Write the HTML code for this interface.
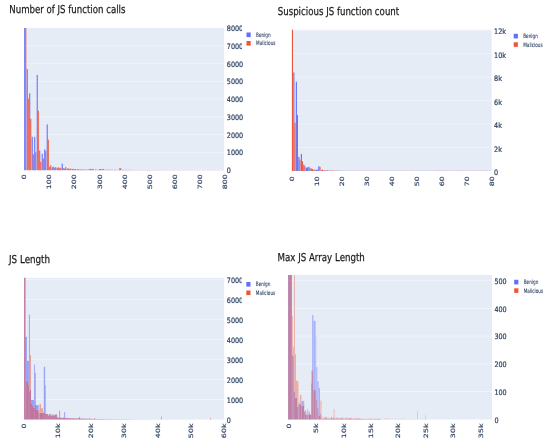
<!DOCTYPE html>
<html><head><meta charset="utf-8"><title>JS feature histograms</title>
<style>html,body{margin:0;padding:0;background:#fff}svg{display:block}text{font-family:"DejaVu Sans","Liberation Sans",sans-serif;text-rendering:geometricPrecision}</style>
</head><body>
<svg width="550" height="445" viewBox="0 0 550 445">
<defs><filter id="soft" x="0" y="0" width="550" height="445" filterUnits="userSpaceOnUse"><feGaussianBlur stdDeviation="0.4"/></filter><filter id="soft2" x="0" y="0" width="550" height="445" filterUnits="userSpaceOnUse"><feGaussianBlur stdDeviation="0.25"/></filter></defs>
<rect width="550" height="445" fill="#fff"/>
<g filter="url(#soft)">
<rect x="24.10" y="28.00" width="200.00" height="142.20" fill="#e5ecf6"/>
<line x1="24.1" x2="224.1" y1="152.34" y2="152.34" stroke="#fff" stroke-width="0.42"/>
<line x1="24.1" x2="224.1" y1="134.58" y2="134.58" stroke="#fff" stroke-width="0.42"/>
<line x1="24.1" x2="224.1" y1="116.82" y2="116.82" stroke="#fff" stroke-width="0.42"/>
<line x1="24.1" x2="224.1" y1="99.06" y2="99.06" stroke="#fff" stroke-width="0.42"/>
<line x1="24.1" x2="224.1" y1="81.30" y2="81.30" stroke="#fff" stroke-width="0.42"/>
<line x1="24.1" x2="224.1" y1="63.54" y2="63.54" stroke="#fff" stroke-width="0.42"/>
<line x1="24.1" x2="224.1" y1="45.78" y2="45.78" stroke="#fff" stroke-width="0.42"/>
<rect x="24.20" y="28.00" width="1.05" height="142.20" fill="#636efa"/>
<rect x="25.25" y="28.00" width="1.05" height="142.20" fill="#ef553b"/>
<rect x="26.70" y="69.05" width="1.05" height="101.15" fill="#636efa"/>
<rect x="27.75" y="98.53" width="1.05" height="71.67" fill="#ef553b"/>
<rect x="29.20" y="93.38" width="1.05" height="76.82" fill="#636efa"/>
<rect x="30.25" y="118.86" width="1.05" height="51.34" fill="#ef553b"/>
<rect x="31.70" y="136.80" width="1.05" height="33.40" fill="#636efa"/>
<rect x="32.75" y="154.29" width="1.05" height="15.91" fill="#ef553b"/>
<rect x="34.20" y="136.80" width="1.05" height="33.40" fill="#636efa"/>
<rect x="35.25" y="152.16" width="1.05" height="18.04" fill="#ef553b"/>
<rect x="36.70" y="74.91" width="1.05" height="95.29" fill="#636efa"/>
<rect x="37.75" y="110.69" width="1.05" height="59.51" fill="#ef553b"/>
<rect x="39.20" y="150.48" width="1.05" height="19.72" fill="#636efa"/>
<rect x="40.25" y="161.93" width="1.05" height="8.27" fill="#ef553b"/>
<rect x="41.70" y="153.76" width="1.05" height="16.44" fill="#636efa"/>
<rect x="42.75" y="158.64" width="1.05" height="11.56" fill="#ef553b"/>
<rect x="44.20" y="149.32" width="1.05" height="20.88" fill="#636efa"/>
<rect x="45.25" y="151.01" width="1.05" height="19.19" fill="#ef553b"/>
<rect x="46.70" y="124.37" width="1.05" height="45.83" fill="#636efa"/>
<rect x="47.75" y="139.73" width="1.05" height="30.47" fill="#ef553b"/>
<rect x="49.20" y="166.90" width="1.05" height="3.30" fill="#636efa"/>
<rect x="50.25" y="165.22" width="1.05" height="4.98" fill="#ef553b"/>
<rect x="51.70" y="167.44" width="1.05" height="2.76" fill="#636efa"/>
<rect x="52.75" y="166.55" width="1.05" height="3.65" fill="#ef553b"/>
<rect x="54.20" y="167.79" width="1.05" height="2.41" fill="#636efa"/>
<rect x="55.25" y="167.08" width="1.05" height="3.12" fill="#ef553b"/>
<rect x="56.70" y="167.97" width="1.05" height="2.23" fill="#636efa"/>
<rect x="57.75" y="167.26" width="1.05" height="2.94" fill="#ef553b"/>
<rect x="59.20" y="168.32" width="1.05" height="1.88" fill="#636efa"/>
<rect x="60.25" y="167.61" width="1.05" height="2.59" fill="#ef553b"/>
<rect x="61.70" y="163.53" width="1.05" height="6.67" fill="#636efa"/>
<rect x="62.75" y="168.15" width="1.05" height="2.05" fill="#ef553b"/>
<rect x="64.20" y="168.50" width="1.05" height="1.70" fill="#636efa"/>
<rect x="65.25" y="167.08" width="1.05" height="3.12" fill="#ef553b"/>
<rect x="66.70" y="168.86" width="1.05" height="1.34" fill="#636efa"/>
<rect x="67.75" y="168.15" width="1.05" height="2.05" fill="#ef553b"/>
<rect x="69.20" y="169.03" width="1.05" height="1.17" fill="#636efa"/>
<rect x="70.25" y="168.50" width="1.05" height="1.70" fill="#ef553b"/>
<rect x="71.70" y="169.21" width="1.05" height="0.99" fill="#636efa"/>
<rect x="72.75" y="168.86" width="1.05" height="1.34" fill="#ef553b"/>
<rect x="74.20" y="169.39" width="1.05" height="0.81" fill="#636efa"/>
<rect x="75.25" y="169.03" width="1.05" height="1.17" fill="#ef553b"/>
<rect x="76.70" y="169.48" width="1.05" height="0.72" fill="#636efa"/>
<rect x="77.75" y="169.21" width="1.05" height="0.99" fill="#ef553b"/>
<rect x="79.20" y="169.57" width="1.05" height="0.63" fill="#636efa"/>
<rect x="80.25" y="169.39" width="1.05" height="0.81" fill="#ef553b"/>
<rect x="81.70" y="169.66" width="1.05" height="0.54" fill="#636efa"/>
<rect x="82.75" y="169.48" width="1.05" height="0.72" fill="#ef553b"/>
<rect x="84.20" y="169.74" width="1.05" height="0.46" fill="#636efa"/>
<rect x="85.25" y="169.57" width="1.05" height="0.63" fill="#ef553b"/>
<rect x="86.70" y="169.73" width="1.05" height="0.47" fill="#636efa"/>
<rect x="87.75" y="169.47" width="1.05" height="0.73" fill="#ef553b"/>
<rect x="89.20" y="169.16" width="1.05" height="1.04" fill="#636efa"/>
<rect x="90.25" y="168.77" width="1.05" height="1.43" fill="#ef553b"/>
<rect x="91.70" y="169.08" width="1.05" height="1.12" fill="#636efa"/>
<rect x="92.75" y="169.09" width="1.05" height="1.11" fill="#ef553b"/>
<rect x="94.20" y="169.89" width="1.05" height="0.31" fill="#636efa"/>
<rect x="95.25" y="169.45" width="1.05" height="0.75" fill="#ef553b"/>
<rect x="96.70" y="169.82" width="1.05" height="0.38" fill="#636efa"/>
<rect x="97.75" y="169.77" width="1.05" height="0.43" fill="#ef553b"/>
<rect x="99.20" y="169.05" width="1.05" height="1.15" fill="#636efa"/>
<rect x="100.25" y="168.98" width="1.05" height="1.22" fill="#ef553b"/>
<rect x="101.70" y="169.13" width="1.05" height="1.07" fill="#636efa"/>
<rect x="102.75" y="169.01" width="1.05" height="1.19" fill="#ef553b"/>
<rect x="104.20" y="169.76" width="1.05" height="0.44" fill="#636efa"/>
<rect x="105.25" y="169.86" width="1.05" height="0.34" fill="#ef553b"/>
<rect x="106.70" y="169.78" width="1.05" height="0.42" fill="#636efa"/>
<rect x="107.75" y="169.63" width="1.05" height="0.57" fill="#ef553b"/>
<rect x="109.20" y="169.83" width="1.05" height="0.37" fill="#636efa"/>
<rect x="110.25" y="169.71" width="1.05" height="0.49" fill="#ef553b"/>
<rect x="111.70" y="169.81" width="1.05" height="0.39" fill="#636efa"/>
<rect x="112.75" y="169.93" width="1.05" height="0.27" fill="#ef553b"/>
<rect x="114.20" y="169.81" width="1.05" height="0.39" fill="#636efa"/>
<rect x="115.25" y="169.80" width="1.05" height="0.40" fill="#ef553b"/>
<rect x="116.70" y="169.93" width="1.05" height="0.27" fill="#636efa"/>
<rect x="117.75" y="169.96" width="1.05" height="0.24" fill="#ef553b"/>
<rect x="119.20" y="168.41" width="1.05" height="1.79" fill="#636efa"/>
<rect x="120.25" y="168.15" width="1.05" height="2.05" fill="#ef553b"/>
<rect x="121.70" y="169.88" width="1.05" height="0.32" fill="#636efa"/>
<rect x="122.75" y="169.79" width="1.05" height="0.41" fill="#ef553b"/>
<rect x="124.20" y="169.89" width="1.05" height="0.31" fill="#636efa"/>
<rect x="125.25" y="169.81" width="1.05" height="0.39" fill="#ef553b"/>
<rect x="126.70" y="169.96" width="1.05" height="0.24" fill="#636efa"/>
<rect x="127.75" y="169.85" width="1.05" height="0.35" fill="#ef553b"/>
<rect x="129.20" y="169.96" width="1.05" height="0.24" fill="#636efa"/>
<rect x="130.25" y="169.84" width="1.05" height="0.36" fill="#ef553b"/>
<rect x="131.70" y="169.91" width="1.05" height="0.29" fill="#636efa"/>
<rect x="132.75" y="170.00" width="1.05" height="0.20" fill="#ef553b"/>
<rect x="134.20" y="170.02" width="1.05" height="0.18" fill="#636efa"/>
<rect x="135.25" y="169.99" width="1.05" height="0.21" fill="#ef553b"/>
<rect x="136.70" y="169.93" width="1.05" height="0.27" fill="#636efa"/>
<rect x="137.75" y="169.96" width="1.05" height="0.24" fill="#ef553b"/>
<rect x="139.20" y="169.97" width="1.05" height="0.23" fill="#636efa"/>
<rect x="140.25" y="169.99" width="1.05" height="0.21" fill="#ef553b"/>
<rect x="141.70" y="170.00" width="1.05" height="0.20" fill="#636efa"/>
<rect x="142.75" y="169.99" width="1.05" height="0.21" fill="#ef553b"/>
<rect x="144.20" y="170.02" width="1.05" height="0.18" fill="#636efa"/>
<rect x="145.25" y="169.97" width="1.05" height="0.23" fill="#ef553b"/>
<rect x="146.70" y="170.00" width="1.05" height="0.20" fill="#636efa"/>
<rect x="147.75" y="169.95" width="1.05" height="0.25" fill="#ef553b"/>
<rect x="149.20" y="170.00" width="1.05" height="0.20" fill="#636efa"/>
<rect x="150.25" y="169.96" width="1.05" height="0.24" fill="#ef553b"/>
<rect x="151.70" y="169.99" width="1.05" height="0.21" fill="#636efa"/>
<rect x="152.75" y="169.96" width="1.05" height="0.24" fill="#ef553b"/>
<rect x="154.20" y="170.02" width="1.05" height="0.18" fill="#636efa"/>
<rect x="155.25" y="170.04" width="1.05" height="0.16" fill="#ef553b"/>
<rect x="156.70" y="170.01" width="1.05" height="0.19" fill="#636efa"/>
<rect x="157.75" y="169.98" width="1.05" height="0.22" fill="#ef553b"/>
<rect x="159.20" y="170.01" width="1.05" height="0.19" fill="#636efa"/>
<rect x="160.25" y="170.02" width="1.05" height="0.18" fill="#ef553b"/>
<rect x="161.70" y="170.03" width="1.05" height="0.17" fill="#636efa"/>
<rect x="162.75" y="170.05" width="1.05" height="0.15" fill="#ef553b"/>
<rect x="164.20" y="170.03" width="1.05" height="0.17" fill="#636efa"/>
<rect x="165.25" y="170.03" width="1.05" height="0.17" fill="#ef553b"/>
<rect x="166.70" y="170.06" width="1.05" height="0.14" fill="#636efa"/>
<rect x="167.75" y="170.07" width="1.05" height="0.13" fill="#ef553b"/>
<rect x="169.20" y="170.04" width="1.05" height="0.16" fill="#636efa"/>
<rect x="170.25" y="170.01" width="1.05" height="0.19" fill="#ef553b"/>
<rect x="171.70" y="170.07" width="1.05" height="0.13" fill="#636efa"/>
<rect x="172.75" y="170.03" width="1.05" height="0.17" fill="#ef553b"/>
<rect x="174.20" y="170.06" width="1.05" height="0.14" fill="#636efa"/>
<rect x="175.25" y="170.07" width="1.05" height="0.13" fill="#ef553b"/>
<rect x="176.70" y="170.07" width="1.05" height="0.13" fill="#636efa"/>
<rect x="177.75" y="170.04" width="1.05" height="0.16" fill="#ef553b"/>
<rect x="179.20" y="170.05" width="1.05" height="0.15" fill="#636efa"/>
<rect x="180.25" y="170.08" width="1.05" height="0.12" fill="#ef553b"/>
<rect x="181.70" y="170.06" width="1.05" height="0.14" fill="#636efa"/>
<rect x="182.75" y="170.08" width="1.05" height="0.12" fill="#ef553b"/>
<rect x="184.20" y="170.06" width="1.05" height="0.14" fill="#636efa"/>
<rect x="185.25" y="170.07" width="1.05" height="0.13" fill="#ef553b"/>
<rect x="186.70" y="170.06" width="1.05" height="0.14" fill="#636efa"/>
<rect x="187.75" y="170.05" width="1.05" height="0.15" fill="#ef553b"/>
<rect x="189.20" y="170.07" width="1.05" height="0.13" fill="#636efa"/>
<rect x="190.25" y="170.05" width="1.05" height="0.15" fill="#ef553b"/>
<rect x="191.70" y="170.08" width="1.05" height="0.12" fill="#636efa"/>
<rect x="192.75" y="170.08" width="1.05" height="0.12" fill="#ef553b"/>
<rect x="194.20" y="170.07" width="1.05" height="0.13" fill="#636efa"/>
<rect x="195.25" y="170.09" width="1.05" height="0.11" fill="#ef553b"/>
<rect x="196.70" y="170.09" width="1.05" height="0.11" fill="#636efa"/>
<rect x="197.75" y="170.08" width="1.05" height="0.12" fill="#ef553b"/>
<rect x="199.20" y="170.08" width="1.05" height="0.12" fill="#636efa"/>
<rect x="200.25" y="170.08" width="1.05" height="0.12" fill="#ef553b"/>
<rect x="201.70" y="170.09" width="1.05" height="0.11" fill="#636efa"/>
<rect x="202.75" y="170.07" width="1.05" height="0.13" fill="#ef553b"/>
<rect x="204.20" y="170.09" width="1.05" height="0.11" fill="#636efa"/>
<rect x="205.25" y="170.07" width="1.05" height="0.13" fill="#ef553b"/>
<rect x="206.70" y="170.08" width="1.05" height="0.12" fill="#636efa"/>
<rect x="207.75" y="170.08" width="1.05" height="0.12" fill="#ef553b"/>
<rect x="209.20" y="170.09" width="1.05" height="0.11" fill="#636efa"/>
<rect x="210.25" y="170.08" width="1.05" height="0.12" fill="#ef553b"/>
<rect x="211.70" y="170.08" width="1.05" height="0.12" fill="#636efa"/>
<rect x="212.75" y="170.08" width="1.05" height="0.12" fill="#ef553b"/>
<rect x="214.20" y="170.09" width="1.05" height="0.11" fill="#636efa"/>
<rect x="215.25" y="170.08" width="1.05" height="0.12" fill="#ef553b"/>
<rect x="216.70" y="170.08" width="1.05" height="0.12" fill="#636efa"/>
<rect x="217.75" y="170.09" width="1.05" height="0.11" fill="#ef553b"/>
<rect x="219.20" y="170.09" width="1.05" height="0.11" fill="#636efa"/>
<rect x="220.25" y="170.08" width="1.05" height="0.12" fill="#ef553b"/>
<rect x="221.70" y="170.09" width="1.05" height="0.11" fill="#636efa"/>
<rect x="222.75" y="170.09" width="1.05" height="0.11" fill="#ef553b"/>
<rect x="291.90" y="29.70" width="199.80" height="141.30" fill="#e5ecf6"/>
<line x1="291.9" x2="491.7" y1="147.46" y2="147.46" stroke="#fff" stroke-width="0.42"/>
<line x1="291.9" x2="491.7" y1="124.02" y2="124.02" stroke="#fff" stroke-width="0.42"/>
<line x1="291.9" x2="491.7" y1="100.58" y2="100.58" stroke="#fff" stroke-width="0.42"/>
<line x1="291.9" x2="491.7" y1="77.14" y2="77.14" stroke="#fff" stroke-width="0.42"/>
<line x1="291.9" x2="491.7" y1="53.70" y2="53.70" stroke="#fff" stroke-width="0.42"/>
<line x1="291.9" x2="491.7" y1="30.26" y2="30.26" stroke="#fff" stroke-width="0.42"/>
<rect x="291.90" y="29.70" width="1.10" height="141.30" fill="#ef553b"/>
<rect x="293.30" y="72.45" width="1.10" height="98.55" fill="#636efa"/>
<rect x="294.40" y="122.85" width="1.10" height="48.15" fill="#ef553b"/>
<rect x="295.80" y="81.83" width="1.10" height="89.17" fill="#636efa"/>
<rect x="296.90" y="115.00" width="1.10" height="56.00" fill="#ef553b"/>
<rect x="298.30" y="156.95" width="1.10" height="14.05" fill="#636efa"/>
<rect x="299.40" y="159.65" width="1.10" height="11.35" fill="#ef553b"/>
<rect x="300.80" y="153.91" width="1.10" height="17.09" fill="#636efa"/>
<rect x="301.90" y="161.29" width="1.10" height="9.71" fill="#ef553b"/>
<rect x="303.30" y="164.57" width="1.10" height="6.43" fill="#636efa"/>
<rect x="304.40" y="166.21" width="1.10" height="4.79" fill="#ef553b"/>
<rect x="305.80" y="167.85" width="1.10" height="3.15" fill="#636efa"/>
<rect x="306.90" y="167.38" width="1.10" height="3.62" fill="#ef553b"/>
<rect x="308.30" y="166.80" width="1.10" height="4.20" fill="#636efa"/>
<rect x="309.40" y="167.85" width="1.10" height="3.15" fill="#ef553b"/>
<rect x="310.80" y="168.56" width="1.10" height="2.44" fill="#636efa"/>
<rect x="311.90" y="169.14" width="1.10" height="1.86" fill="#ef553b"/>
<rect x="313.30" y="169.73" width="1.10" height="1.27" fill="#636efa"/>
<rect x="314.40" y="169.73" width="1.10" height="1.27" fill="#ef553b"/>
<rect x="315.80" y="169.73" width="1.10" height="1.27" fill="#636efa"/>
<rect x="316.90" y="169.73" width="1.10" height="1.27" fill="#ef553b"/>
<rect x="318.30" y="166.21" width="1.10" height="4.79" fill="#636efa"/>
<rect x="319.40" y="166.80" width="1.10" height="4.20" fill="#ef553b"/>
<rect x="320.80" y="170.20" width="1.10" height="0.80" fill="#636efa"/>
<rect x="321.90" y="169.73" width="1.10" height="1.27" fill="#ef553b"/>
<rect x="323.30" y="170.43" width="1.10" height="0.57" fill="#636efa"/>
<rect x="324.40" y="170.08" width="1.10" height="0.92" fill="#ef553b"/>
<rect x="325.80" y="170.55" width="1.10" height="0.45" fill="#636efa"/>
<rect x="326.90" y="170.31" width="1.10" height="0.69" fill="#ef553b"/>
<rect x="328.30" y="170.61" width="1.10" height="0.39" fill="#636efa"/>
<rect x="329.40" y="170.43" width="1.10" height="0.57" fill="#ef553b"/>
<rect x="330.80" y="170.67" width="1.10" height="0.33" fill="#636efa"/>
<rect x="331.90" y="170.55" width="1.10" height="0.45" fill="#ef553b"/>
<rect x="333.30" y="170.72" width="1.10" height="0.28" fill="#636efa"/>
<rect x="334.40" y="170.61" width="1.10" height="0.39" fill="#ef553b"/>
<rect x="335.80" y="170.76" width="1.10" height="0.24" fill="#636efa"/>
<rect x="336.90" y="170.67" width="1.10" height="0.33" fill="#ef553b"/>
<rect x="338.30" y="170.78" width="1.10" height="0.22" fill="#636efa"/>
<rect x="339.40" y="170.72" width="1.10" height="0.28" fill="#ef553b"/>
<rect x="340.80" y="170.81" width="1.10" height="0.19" fill="#636efa"/>
<rect x="341.90" y="170.83" width="1.10" height="0.17" fill="#ef553b"/>
<rect x="343.30" y="170.85" width="1.10" height="0.15" fill="#636efa"/>
<rect x="344.40" y="170.90" width="1.10" height="0.10" fill="#ef553b"/>
<rect x="345.80" y="170.86" width="1.10" height="0.14" fill="#636efa"/>
<rect x="346.90" y="170.82" width="1.10" height="0.18" fill="#ef553b"/>
<rect x="348.30" y="170.90" width="1.10" height="0.10" fill="#636efa"/>
<rect x="349.40" y="170.81" width="1.10" height="0.19" fill="#ef553b"/>
<rect x="350.80" y="170.84" width="1.10" height="0.16" fill="#636efa"/>
<rect x="351.90" y="170.89" width="1.10" height="0.11" fill="#ef553b"/>
<rect x="353.30" y="170.84" width="1.10" height="0.16" fill="#636efa"/>
<rect x="354.40" y="170.83" width="1.10" height="0.17" fill="#ef553b"/>
<rect x="355.80" y="170.84" width="1.10" height="0.16" fill="#636efa"/>
<rect x="356.90" y="170.85" width="1.10" height="0.15" fill="#ef553b"/>
<rect x="358.30" y="170.83" width="1.10" height="0.17" fill="#636efa"/>
<rect x="359.40" y="170.80" width="1.10" height="0.20" fill="#ef553b"/>
<rect x="360.80" y="170.90" width="1.10" height="0.10" fill="#636efa"/>
<rect x="361.90" y="170.89" width="1.10" height="0.11" fill="#ef553b"/>
<rect x="363.30" y="170.84" width="1.10" height="0.16" fill="#636efa"/>
<rect x="364.40" y="170.76" width="1.10" height="0.24" fill="#ef553b"/>
<rect x="365.80" y="170.88" width="1.10" height="0.12" fill="#636efa"/>
<rect x="366.90" y="170.84" width="1.10" height="0.16" fill="#ef553b"/>
<rect x="368.30" y="170.84" width="1.10" height="0.16" fill="#636efa"/>
<rect x="369.40" y="170.85" width="1.10" height="0.15" fill="#ef553b"/>
<rect x="370.80" y="170.87" width="1.10" height="0.13" fill="#636efa"/>
<rect x="371.90" y="170.86" width="1.10" height="0.14" fill="#ef553b"/>
<rect x="373.30" y="170.87" width="1.10" height="0.13" fill="#636efa"/>
<rect x="374.40" y="170.82" width="1.10" height="0.18" fill="#ef553b"/>
<rect x="375.80" y="170.87" width="1.10" height="0.13" fill="#636efa"/>
<rect x="376.90" y="170.85" width="1.10" height="0.15" fill="#ef553b"/>
<rect x="378.30" y="170.83" width="1.10" height="0.17" fill="#636efa"/>
<rect x="379.40" y="170.90" width="1.10" height="0.10" fill="#ef553b"/>
<rect x="380.80" y="170.85" width="1.10" height="0.15" fill="#636efa"/>
<rect x="381.90" y="170.80" width="1.10" height="0.20" fill="#ef553b"/>
<rect x="383.30" y="170.87" width="1.10" height="0.13" fill="#636efa"/>
<rect x="384.40" y="170.87" width="1.10" height="0.13" fill="#ef553b"/>
<rect x="385.80" y="170.82" width="1.10" height="0.18" fill="#636efa"/>
<rect x="386.90" y="170.87" width="1.10" height="0.13" fill="#ef553b"/>
<rect x="388.30" y="170.88" width="1.10" height="0.12" fill="#636efa"/>
<rect x="389.40" y="170.84" width="1.10" height="0.16" fill="#ef553b"/>
<rect x="390.80" y="170.83" width="1.10" height="0.17" fill="#636efa"/>
<rect x="391.90" y="170.89" width="1.10" height="0.11" fill="#ef553b"/>
<rect x="393.30" y="170.87" width="1.10" height="0.13" fill="#636efa"/>
<rect x="394.40" y="170.85" width="1.10" height="0.15" fill="#ef553b"/>
<rect x="395.80" y="170.82" width="1.10" height="0.18" fill="#636efa"/>
<rect x="396.90" y="170.84" width="1.10" height="0.16" fill="#ef553b"/>
<rect x="398.30" y="170.82" width="1.10" height="0.18" fill="#636efa"/>
<rect x="399.40" y="170.88" width="1.10" height="0.12" fill="#ef553b"/>
<rect x="400.80" y="170.87" width="1.10" height="0.13" fill="#636efa"/>
<rect x="401.90" y="170.81" width="1.10" height="0.19" fill="#ef553b"/>
<rect x="403.30" y="170.82" width="1.10" height="0.18" fill="#636efa"/>
<rect x="404.40" y="170.84" width="1.10" height="0.16" fill="#ef553b"/>
<rect x="405.80" y="170.88" width="1.10" height="0.12" fill="#636efa"/>
<rect x="406.90" y="170.88" width="1.10" height="0.12" fill="#ef553b"/>
<rect x="408.30" y="170.85" width="1.10" height="0.15" fill="#636efa"/>
<rect x="409.40" y="170.87" width="1.10" height="0.13" fill="#ef553b"/>
<rect x="410.80" y="170.82" width="1.10" height="0.18" fill="#636efa"/>
<rect x="411.90" y="170.78" width="1.10" height="0.22" fill="#ef553b"/>
<rect x="413.30" y="170.88" width="1.10" height="0.12" fill="#636efa"/>
<rect x="414.40" y="170.86" width="1.10" height="0.14" fill="#ef553b"/>
<rect x="415.80" y="170.82" width="1.10" height="0.18" fill="#636efa"/>
<rect x="416.90" y="170.81" width="1.10" height="0.19" fill="#ef553b"/>
<rect x="418.30" y="170.82" width="1.10" height="0.18" fill="#636efa"/>
<rect x="419.40" y="170.85" width="1.10" height="0.15" fill="#ef553b"/>
<rect x="420.80" y="170.89" width="1.10" height="0.11" fill="#636efa"/>
<rect x="421.90" y="170.86" width="1.10" height="0.14" fill="#ef553b"/>
<rect x="423.30" y="170.83" width="1.10" height="0.17" fill="#636efa"/>
<rect x="424.40" y="170.86" width="1.10" height="0.14" fill="#ef553b"/>
<rect x="425.80" y="170.87" width="1.10" height="0.13" fill="#636efa"/>
<rect x="426.90" y="170.84" width="1.10" height="0.16" fill="#ef553b"/>
<rect x="428.30" y="170.86" width="1.10" height="0.14" fill="#636efa"/>
<rect x="429.40" y="170.84" width="1.10" height="0.16" fill="#ef553b"/>
<rect x="430.80" y="170.81" width="1.10" height="0.19" fill="#636efa"/>
<rect x="431.90" y="170.88" width="1.10" height="0.12" fill="#ef553b"/>
<rect x="433.30" y="170.90" width="1.10" height="0.10" fill="#636efa"/>
<rect x="434.40" y="170.77" width="1.10" height="0.23" fill="#ef553b"/>
<rect x="435.80" y="170.82" width="1.10" height="0.18" fill="#636efa"/>
<rect x="436.90" y="170.76" width="1.10" height="0.24" fill="#ef553b"/>
<rect x="438.30" y="170.86" width="1.10" height="0.14" fill="#636efa"/>
<rect x="439.40" y="170.77" width="1.10" height="0.23" fill="#ef553b"/>
<rect x="440.80" y="170.81" width="1.10" height="0.19" fill="#636efa"/>
<rect x="441.90" y="170.87" width="1.10" height="0.13" fill="#ef553b"/>
<rect x="443.30" y="170.83" width="1.10" height="0.17" fill="#636efa"/>
<rect x="444.40" y="170.78" width="1.10" height="0.22" fill="#ef553b"/>
<rect x="445.80" y="170.84" width="1.10" height="0.16" fill="#636efa"/>
<rect x="446.90" y="170.83" width="1.10" height="0.17" fill="#ef553b"/>
<rect x="448.30" y="170.87" width="1.10" height="0.13" fill="#636efa"/>
<rect x="449.40" y="170.85" width="1.10" height="0.15" fill="#ef553b"/>
<rect x="450.80" y="170.88" width="1.10" height="0.12" fill="#636efa"/>
<rect x="451.90" y="170.89" width="1.10" height="0.11" fill="#ef553b"/>
<rect x="453.30" y="170.84" width="1.10" height="0.16" fill="#636efa"/>
<rect x="454.40" y="170.86" width="1.10" height="0.14" fill="#ef553b"/>
<rect x="455.80" y="170.82" width="1.10" height="0.18" fill="#636efa"/>
<rect x="456.90" y="170.89" width="1.10" height="0.11" fill="#ef553b"/>
<rect x="458.30" y="170.82" width="1.10" height="0.18" fill="#636efa"/>
<rect x="459.40" y="170.80" width="1.10" height="0.20" fill="#ef553b"/>
<rect x="460.80" y="170.81" width="1.10" height="0.19" fill="#636efa"/>
<rect x="461.90" y="170.77" width="1.10" height="0.23" fill="#ef553b"/>
<rect x="463.30" y="170.82" width="1.10" height="0.18" fill="#636efa"/>
<rect x="464.40" y="170.82" width="1.10" height="0.18" fill="#ef553b"/>
<rect x="465.80" y="170.90" width="1.10" height="0.10" fill="#636efa"/>
<rect x="466.90" y="170.80" width="1.10" height="0.20" fill="#ef553b"/>
<rect x="468.30" y="170.88" width="1.10" height="0.12" fill="#636efa"/>
<rect x="469.40" y="170.86" width="1.10" height="0.14" fill="#ef553b"/>
<rect x="470.80" y="170.84" width="1.10" height="0.16" fill="#636efa"/>
<rect x="471.90" y="170.83" width="1.10" height="0.17" fill="#ef553b"/>
<rect x="473.30" y="170.86" width="1.10" height="0.14" fill="#636efa"/>
<rect x="474.40" y="170.77" width="1.10" height="0.23" fill="#ef553b"/>
<rect x="475.80" y="170.84" width="1.10" height="0.16" fill="#636efa"/>
<rect x="476.90" y="170.85" width="1.10" height="0.15" fill="#ef553b"/>
<rect x="478.30" y="170.88" width="1.10" height="0.12" fill="#636efa"/>
<rect x="479.40" y="170.78" width="1.10" height="0.22" fill="#ef553b"/>
<rect x="480.80" y="170.86" width="1.10" height="0.14" fill="#636efa"/>
<rect x="481.90" y="170.79" width="1.10" height="0.21" fill="#ef553b"/>
<rect x="483.30" y="170.87" width="1.10" height="0.13" fill="#636efa"/>
<rect x="484.40" y="170.87" width="1.10" height="0.13" fill="#ef553b"/>
<rect x="485.80" y="170.85" width="1.10" height="0.15" fill="#636efa"/>
<rect x="486.90" y="170.79" width="1.10" height="0.21" fill="#ef553b"/>
<rect x="488.30" y="170.88" width="1.10" height="0.12" fill="#636efa"/>
<rect x="489.40" y="170.79" width="1.10" height="0.21" fill="#ef553b"/>
<rect x="24.10" y="277.80" width="200.00" height="141.70" fill="#e5ecf6"/>
<line x1="24.1" x2="224.1" y1="399.52" y2="399.52" stroke="#fff" stroke-width="0.42"/>
<line x1="24.1" x2="224.1" y1="379.54" y2="379.54" stroke="#fff" stroke-width="0.42"/>
<line x1="24.1" x2="224.1" y1="359.56" y2="359.56" stroke="#fff" stroke-width="0.42"/>
<line x1="24.1" x2="224.1" y1="339.58" y2="339.58" stroke="#fff" stroke-width="0.42"/>
<line x1="24.1" x2="224.1" y1="319.60" y2="319.60" stroke="#fff" stroke-width="0.42"/>
<line x1="24.1" x2="224.1" y1="299.62" y2="299.62" stroke="#fff" stroke-width="0.42"/>
<line x1="24.1" x2="224.1" y1="279.64" y2="279.64" stroke="#fff" stroke-width="0.42"/>
<rect x="24.10" y="277.80" width="1.10" height="141.70" fill="rgb(190,118,160)"/>
<rect x="25.20" y="336.78" width="0.80" height="82.72" fill="rgb(190,118,160)"/>
<rect x="25.20" y="277.80" width="0.80" height="58.98" fill="rgb(235,162,152)"/>
<rect x="26.00" y="380.54" width="0.90" height="38.96" fill="rgb(190,118,160)"/>
<rect x="26.00" y="336.78" width="0.90" height="43.76" fill="rgb(150,162,250)"/>
<rect x="26.90" y="380.54" width="1.10" height="38.96" fill="rgb(190,118,160)"/>
<rect x="26.90" y="360.86" width="1.10" height="19.68" fill="rgb(150,162,250)"/>
<rect x="28.00" y="384.93" width="0.90" height="34.57" fill="rgb(190,118,160)"/>
<rect x="28.00" y="360.86" width="0.90" height="24.08" fill="rgb(150,162,250)"/>
<rect x="28.90" y="384.93" width="0.10" height="34.57" fill="rgb(190,118,160)"/>
<rect x="28.90" y="314.61" width="0.10" height="70.33" fill="rgb(150,162,250)"/>
<rect x="29.00" y="391.53" width="0.90" height="27.97" fill="rgb(190,118,160)"/>
<rect x="29.00" y="314.61" width="0.90" height="76.92" fill="rgb(150,162,250)"/>
<rect x="29.90" y="389.53" width="1.10" height="29.97" fill="rgb(190,118,160)"/>
<rect x="29.90" y="355.06" width="1.10" height="34.47" fill="rgb(235,162,152)"/>
<rect x="31.00" y="403.52" width="1.00" height="15.98" fill="rgb(190,118,160)"/>
<rect x="31.00" y="399.92" width="1.00" height="3.60" fill="rgb(150,162,250)"/>
<rect x="32.00" y="405.51" width="1.00" height="13.99" fill="rgb(190,118,160)"/>
<rect x="32.00" y="399.92" width="1.00" height="5.59" fill="rgb(150,162,250)"/>
<rect x="33.00" y="407.51" width="1.00" height="11.99" fill="rgb(190,118,160)"/>
<rect x="33.00" y="399.92" width="1.00" height="7.59" fill="rgb(150,162,250)"/>
<rect x="34.00" y="407.51" width="0.90" height="11.99" fill="rgb(190,118,160)"/>
<rect x="34.00" y="364.56" width="0.90" height="42.96" fill="rgb(150,162,250)"/>
<rect x="34.90" y="405.11" width="1.10" height="14.39" fill="rgb(190,118,160)"/>
<rect x="34.90" y="372.95" width="1.10" height="32.17" fill="rgb(235,162,152)"/>
<rect x="36.00" y="409.71" width="2.70" height="9.79" fill="rgb(190,118,160)"/>
<rect x="36.00" y="405.11" width="2.70" height="4.60" fill="rgb(150,162,250)"/>
<rect x="38.70" y="412.71" width="0.80" height="6.79" fill="rgb(190,118,160)"/>
<rect x="38.70" y="409.51" width="0.80" height="3.20" fill="rgb(235,162,152)"/>
<rect x="39.50" y="412.71" width="1.50" height="6.79" fill="rgb(190,118,160)"/>
<rect x="39.50" y="403.92" width="1.50" height="8.79" fill="rgb(235,162,152)"/>
<rect x="41.00" y="412.71" width="2.00" height="6.79" fill="rgb(190,118,160)"/>
<rect x="41.00" y="408.31" width="2.00" height="4.40" fill="rgb(235,162,152)"/>
<rect x="43.00" y="412.71" width="0.80" height="6.79" fill="rgb(190,118,160)"/>
<rect x="43.80" y="412.71" width="1.30" height="6.79" fill="rgb(190,118,160)"/>
<rect x="43.80" y="366.75" width="1.30" height="45.95" fill="rgb(150,162,250)"/>
<rect x="45.10" y="413.81" width="0.90" height="5.69" fill="rgb(190,118,160)"/>
<rect x="45.10" y="385.33" width="0.90" height="28.48" fill="rgb(235,162,152)"/>
<rect x="46.00" y="414.02" width="0.10" height="5.48" fill="rgb(190,118,160)"/>
<rect x="46.00" y="413.81" width="0.10" height="0.20" fill="rgb(150,162,250)"/>
<rect x="46.10" y="414.09" width="0.90" height="5.41" fill="rgb(190,118,160)"/>
<rect x="46.10" y="414.02" width="0.90" height="0.07" fill="rgb(235,162,152)"/>
<rect x="47.00" y="414.09" width="0.10" height="5.41" fill="rgb(190,118,160)"/>
<rect x="47.00" y="413.74" width="0.10" height="0.34" fill="rgb(235,162,152)"/>
<rect x="47.10" y="414.05" width="0.90" height="5.45" fill="rgb(190,118,160)"/>
<rect x="47.10" y="413.74" width="0.90" height="0.30" fill="rgb(235,162,152)"/>
<rect x="48.00" y="414.62" width="0.10" height="4.88" fill="rgb(190,118,160)"/>
<rect x="48.00" y="414.05" width="0.10" height="0.57" fill="rgb(150,162,250)"/>
<rect x="48.10" y="415.96" width="0.90" height="3.54" fill="rgb(190,118,160)"/>
<rect x="48.10" y="414.62" width="0.90" height="1.34" fill="rgb(235,162,152)"/>
<rect x="49.00" y="415.96" width="0.10" height="3.54" fill="rgb(190,118,160)"/>
<rect x="49.00" y="414.10" width="0.10" height="1.86" fill="rgb(235,162,152)"/>
<rect x="49.10" y="414.50" width="0.90" height="5.00" fill="rgb(190,118,160)"/>
<rect x="49.10" y="414.10" width="0.90" height="0.40" fill="rgb(235,162,152)"/>
<rect x="50.00" y="415.89" width="0.10" height="3.61" fill="rgb(190,118,160)"/>
<rect x="50.00" y="414.50" width="0.10" height="1.39" fill="rgb(150,162,250)"/>
<rect x="50.10" y="415.89" width="0.90" height="3.61" fill="rgb(190,118,160)"/>
<rect x="50.10" y="413.95" width="0.90" height="1.94" fill="rgb(150,162,250)"/>
<rect x="51.00" y="414.18" width="0.10" height="5.32" fill="rgb(190,118,160)"/>
<rect x="51.00" y="413.95" width="0.10" height="0.22" fill="rgb(150,162,250)"/>
<rect x="51.10" y="415.86" width="0.90" height="3.64" fill="rgb(190,118,160)"/>
<rect x="51.10" y="414.18" width="0.90" height="1.68" fill="rgb(235,162,152)"/>
<rect x="52.00" y="415.86" width="0.10" height="3.64" fill="rgb(190,118,160)"/>
<rect x="52.00" y="414.78" width="0.10" height="1.08" fill="rgb(235,162,152)"/>
<rect x="52.10" y="415.34" width="0.90" height="4.16" fill="rgb(190,118,160)"/>
<rect x="52.10" y="414.78" width="0.90" height="0.56" fill="rgb(235,162,152)"/>
<rect x="53.00" y="415.34" width="0.10" height="4.16" fill="rgb(190,118,160)"/>
<rect x="53.00" y="414.30" width="0.10" height="1.04" fill="rgb(235,162,152)"/>
<rect x="53.10" y="415.35" width="0.90" height="4.15" fill="rgb(190,118,160)"/>
<rect x="53.10" y="414.30" width="0.90" height="1.05" fill="rgb(235,162,152)"/>
<rect x="54.00" y="415.73" width="0.10" height="3.77" fill="rgb(190,118,160)"/>
<rect x="54.00" y="415.35" width="0.10" height="0.38" fill="rgb(150,162,250)"/>
<rect x="54.10" y="415.73" width="0.90" height="3.77" fill="rgb(190,118,160)"/>
<rect x="54.10" y="414.74" width="0.90" height="0.99" fill="rgb(150,162,250)"/>
<rect x="55.00" y="414.74" width="0.10" height="4.76" fill="rgb(190,118,160)"/>
<rect x="55.00" y="414.22" width="0.10" height="0.52" fill="rgb(235,162,152)"/>
<rect x="55.10" y="414.99" width="0.90" height="4.51" fill="rgb(190,118,160)"/>
<rect x="55.10" y="414.22" width="0.90" height="0.77" fill="rgb(235,162,152)"/>
<rect x="56.00" y="414.99" width="0.10" height="4.51" fill="rgb(190,118,160)"/>
<rect x="56.00" y="413.78" width="0.10" height="1.20" fill="rgb(235,162,152)"/>
<rect x="56.10" y="414.87" width="0.90" height="4.63" fill="rgb(190,118,160)"/>
<rect x="56.10" y="413.78" width="0.90" height="1.08" fill="rgb(235,162,152)"/>
<rect x="57.00" y="417.78" width="0.10" height="1.72" fill="rgb(190,118,160)"/>
<rect x="57.00" y="414.87" width="0.10" height="2.92" fill="rgb(150,162,250)"/>
<rect x="57.10" y="417.78" width="0.90" height="1.72" fill="rgb(190,118,160)"/>
<rect x="57.10" y="417.01" width="0.90" height="0.78" fill="rgb(150,162,250)"/>
<rect x="58.00" y="417.57" width="0.10" height="1.93" fill="rgb(190,118,160)"/>
<rect x="58.00" y="417.01" width="0.10" height="0.56" fill="rgb(150,162,250)"/>
<rect x="58.10" y="417.91" width="0.90" height="1.59" fill="rgb(190,118,160)"/>
<rect x="58.10" y="417.57" width="0.90" height="0.35" fill="rgb(235,162,152)"/>
<rect x="59.00" y="417.91" width="0.10" height="1.59" fill="rgb(190,118,160)"/>
<rect x="59.00" y="417.39" width="0.10" height="0.52" fill="rgb(235,162,152)"/>
<rect x="59.10" y="417.39" width="0.90" height="2.11" fill="rgb(190,118,160)"/>
<rect x="59.10" y="410.81" width="0.90" height="6.58" fill="rgb(150,162,250)"/>
<rect x="60.00" y="417.20" width="0.10" height="2.30" fill="rgb(190,118,160)"/>
<rect x="60.00" y="410.81" width="0.10" height="6.39" fill="rgb(150,162,250)"/>
<rect x="60.10" y="417.90" width="0.90" height="1.60" fill="rgb(190,118,160)"/>
<rect x="60.10" y="417.20" width="0.90" height="0.70" fill="rgb(235,162,152)"/>
<rect x="61.00" y="417.90" width="0.10" height="1.60" fill="rgb(190,118,160)"/>
<rect x="61.00" y="417.84" width="0.10" height="0.06" fill="rgb(235,162,152)"/>
<rect x="61.10" y="417.96" width="0.90" height="1.54" fill="rgb(190,118,160)"/>
<rect x="61.10" y="417.84" width="0.90" height="0.12" fill="rgb(235,162,152)"/>
<rect x="62.00" y="417.96" width="0.10" height="1.54" fill="rgb(190,118,160)"/>
<rect x="62.00" y="417.96" width="0.10" height="0.00" fill="rgb(235,162,152)"/>
<rect x="62.10" y="418.06" width="0.90" height="1.44" fill="rgb(190,118,160)"/>
<rect x="62.10" y="417.96" width="0.90" height="0.11" fill="rgb(235,162,152)"/>
<rect x="63.00" y="418.06" width="0.10" height="1.44" fill="rgb(190,118,160)"/>
<rect x="63.00" y="417.95" width="0.10" height="0.12" fill="rgb(235,162,152)"/>
<rect x="63.10" y="417.95" width="0.90" height="1.55" fill="rgb(190,118,160)"/>
<rect x="63.10" y="417.31" width="0.90" height="0.63" fill="rgb(150,162,250)"/>
<rect x="64.00" y="417.69" width="0.10" height="1.81" fill="rgb(190,118,160)"/>
<rect x="64.00" y="417.31" width="0.10" height="0.38" fill="rgb(150,162,250)"/>
<rect x="64.10" y="417.69" width="0.90" height="1.81" fill="rgb(190,118,160)"/>
<rect x="64.10" y="412.11" width="0.90" height="5.58" fill="rgb(150,162,250)"/>
<rect x="65.00" y="417.64" width="0.10" height="1.86" fill="rgb(190,118,160)"/>
<rect x="65.00" y="412.11" width="0.10" height="5.53" fill="rgb(150,162,250)"/>
<rect x="65.10" y="418.19" width="0.90" height="1.31" fill="rgb(190,118,160)"/>
<rect x="65.10" y="417.64" width="0.90" height="0.56" fill="rgb(235,162,152)"/>
<rect x="66.00" y="418.19" width="0.10" height="1.31" fill="rgb(190,118,160)"/>
<rect x="66.00" y="417.99" width="0.10" height="0.20" fill="rgb(235,162,152)"/>
<rect x="66.10" y="417.99" width="0.90" height="1.51" fill="rgb(190,118,160)"/>
<rect x="66.10" y="417.91" width="0.90" height="0.08" fill="rgb(150,162,250)"/>
<rect x="67.00" y="418.06" width="0.10" height="1.44" fill="rgb(190,118,160)"/>
<rect x="67.00" y="417.91" width="0.10" height="0.15" fill="rgb(150,162,250)"/>
<rect x="67.10" y="418.11" width="0.90" height="1.39" fill="rgb(190,118,160)"/>
<rect x="67.10" y="418.06" width="0.90" height="0.04" fill="rgb(235,162,152)"/>
<rect x="68.00" y="418.11" width="0.10" height="1.39" fill="rgb(190,118,160)"/>
<rect x="68.00" y="418.09" width="0.10" height="0.02" fill="rgb(235,162,152)"/>
<rect x="68.10" y="418.16" width="0.90" height="1.34" fill="rgb(190,118,160)"/>
<rect x="68.10" y="418.09" width="0.90" height="0.07" fill="rgb(235,162,152)"/>
<rect x="69.00" y="418.18" width="0.10" height="1.32" fill="rgb(190,118,160)"/>
<rect x="69.00" y="418.16" width="0.10" height="0.02" fill="rgb(150,162,250)"/>
<rect x="69.10" y="418.18" width="0.90" height="1.32" fill="rgb(190,118,160)"/>
<rect x="69.10" y="418.18" width="0.90" height="0.00" fill="rgb(235,162,152)"/>
<rect x="70.00" y="418.18" width="0.10" height="1.32" fill="rgb(190,118,160)"/>
<rect x="70.00" y="418.17" width="0.10" height="0.00" fill="rgb(235,162,152)"/>
<rect x="70.10" y="418.17" width="0.90" height="1.33" fill="rgb(190,118,160)"/>
<rect x="70.10" y="418.02" width="0.90" height="0.15" fill="rgb(150,162,250)"/>
<rect x="71.00" y="418.44" width="0.10" height="1.06" fill="rgb(190,118,160)"/>
<rect x="71.00" y="418.02" width="0.10" height="0.42" fill="rgb(150,162,250)"/>
<rect x="71.10" y="418.44" width="0.90" height="1.06" fill="rgb(190,118,160)"/>
<rect x="71.10" y="418.11" width="0.90" height="0.33" fill="rgb(150,162,250)"/>
<rect x="72.00" y="418.21" width="0.10" height="1.29" fill="rgb(190,118,160)"/>
<rect x="72.00" y="418.11" width="0.10" height="0.10" fill="rgb(150,162,250)"/>
<rect x="72.10" y="418.31" width="0.90" height="1.19" fill="rgb(190,118,160)"/>
<rect x="72.10" y="418.21" width="0.90" height="0.09" fill="rgb(235,162,152)"/>
<rect x="73.00" y="418.31" width="0.10" height="1.19" fill="rgb(190,118,160)"/>
<rect x="73.00" y="417.97" width="0.10" height="0.34" fill="rgb(235,162,152)"/>
<rect x="73.10" y="418.45" width="0.90" height="1.05" fill="rgb(190,118,160)"/>
<rect x="73.10" y="417.97" width="0.90" height="0.49" fill="rgb(235,162,152)"/>
<rect x="74.00" y="418.45" width="0.10" height="1.05" fill="rgb(190,118,160)"/>
<rect x="74.00" y="418.35" width="0.10" height="0.10" fill="rgb(235,162,152)"/>
<rect x="74.10" y="418.41" width="0.90" height="1.09" fill="rgb(190,118,160)"/>
<rect x="74.10" y="418.35" width="0.90" height="0.05" fill="rgb(235,162,152)"/>
<rect x="75.00" y="418.41" width="0.10" height="1.09" fill="rgb(190,118,160)"/>
<rect x="75.00" y="418.20" width="0.10" height="0.21" fill="rgb(235,162,152)"/>
<rect x="75.10" y="418.57" width="0.90" height="0.93" fill="rgb(190,118,160)"/>
<rect x="75.10" y="418.20" width="0.90" height="0.36" fill="rgb(235,162,152)"/>
<rect x="76.00" y="418.57" width="0.10" height="0.93" fill="rgb(190,118,160)"/>
<rect x="76.00" y="418.57" width="0.10" height="0.01" fill="rgb(150,162,250)"/>
<rect x="76.10" y="418.57" width="0.90" height="0.93" fill="rgb(190,118,160)"/>
<rect x="76.10" y="418.36" width="0.90" height="0.22" fill="rgb(150,162,250)"/>
<rect x="77.00" y="418.36" width="0.10" height="1.14" fill="rgb(190,118,160)"/>
<rect x="77.00" y="418.32" width="0.10" height="0.04" fill="rgb(235,162,152)"/>
<rect x="77.10" y="418.32" width="0.90" height="1.18" fill="rgb(190,118,160)"/>
<rect x="77.10" y="418.31" width="0.90" height="0.01" fill="rgb(150,162,250)"/>
<rect x="78.00" y="418.33" width="0.10" height="1.17" fill="rgb(190,118,160)"/>
<rect x="78.00" y="418.31" width="0.10" height="0.02" fill="rgb(150,162,250)"/>
<rect x="78.10" y="418.53" width="0.90" height="0.97" fill="rgb(190,118,160)"/>
<rect x="78.10" y="418.33" width="0.90" height="0.20" fill="rgb(235,162,152)"/>
<rect x="79.00" y="418.53" width="0.10" height="0.97" fill="rgb(190,118,160)"/>
<rect x="79.00" y="417.30" width="0.10" height="1.23" fill="rgb(235,162,152)"/>
<rect x="79.10" y="417.30" width="0.90" height="2.20" fill="rgb(190,118,160)"/>
<rect x="79.10" y="416.90" width="0.90" height="0.40" fill="rgb(150,162,250)"/>
<rect x="80.00" y="418.53" width="0.10" height="0.97" fill="rgb(190,118,160)"/>
<rect x="80.00" y="416.90" width="0.10" height="1.62" fill="rgb(150,162,250)"/>
<rect x="80.10" y="418.69" width="0.90" height="0.81" fill="rgb(190,118,160)"/>
<rect x="80.10" y="418.53" width="0.90" height="0.17" fill="rgb(235,162,152)"/>
<rect x="81.00" y="418.69" width="0.10" height="0.81" fill="rgb(190,118,160)"/>
<rect x="81.00" y="418.57" width="0.10" height="0.12" fill="rgb(235,162,152)"/>
<rect x="81.10" y="418.63" width="0.90" height="0.87" fill="rgb(190,118,160)"/>
<rect x="81.10" y="418.57" width="0.90" height="0.05" fill="rgb(235,162,152)"/>
<rect x="82.00" y="418.63" width="0.10" height="0.87" fill="rgb(190,118,160)"/>
<rect x="82.00" y="418.54" width="0.10" height="0.09" fill="rgb(235,162,152)"/>
<rect x="82.10" y="418.56" width="0.90" height="0.94" fill="rgb(190,118,160)"/>
<rect x="82.10" y="418.54" width="0.90" height="0.02" fill="rgb(235,162,152)"/>
<rect x="83.00" y="418.56" width="0.10" height="0.94" fill="rgb(190,118,160)"/>
<rect x="83.00" y="418.46" width="0.10" height="0.10" fill="rgb(235,162,152)"/>
<rect x="83.10" y="418.51" width="0.90" height="0.99" fill="rgb(190,118,160)"/>
<rect x="83.10" y="418.46" width="0.90" height="0.05" fill="rgb(235,162,152)"/>
<rect x="84.00" y="418.81" width="0.10" height="0.69" fill="rgb(190,118,160)"/>
<rect x="84.00" y="418.51" width="0.10" height="0.30" fill="rgb(150,162,250)"/>
<rect x="84.10" y="418.81" width="0.90" height="0.69" fill="rgb(190,118,160)"/>
<rect x="84.10" y="418.72" width="0.90" height="0.09" fill="rgb(150,162,250)"/>
<rect x="85.00" y="418.85" width="0.10" height="0.65" fill="rgb(190,118,160)"/>
<rect x="85.00" y="418.72" width="0.10" height="0.14" fill="rgb(150,162,250)"/>
<rect x="85.10" y="418.85" width="0.90" height="0.65" fill="rgb(190,118,160)"/>
<rect x="85.10" y="418.57" width="0.90" height="0.28" fill="rgb(150,162,250)"/>
<rect x="86.00" y="418.62" width="0.10" height="0.88" fill="rgb(190,118,160)"/>
<rect x="86.00" y="418.57" width="0.10" height="0.05" fill="rgb(150,162,250)"/>
<rect x="86.10" y="418.67" width="0.90" height="0.83" fill="rgb(190,118,160)"/>
<rect x="86.10" y="418.62" width="0.90" height="0.05" fill="rgb(235,162,152)"/>
<rect x="87.00" y="418.67" width="0.10" height="0.83" fill="rgb(190,118,160)"/>
<rect x="87.00" y="418.59" width="0.10" height="0.08" fill="rgb(235,162,152)"/>
<rect x="87.10" y="418.78" width="0.90" height="0.72" fill="rgb(190,118,160)"/>
<rect x="87.10" y="418.59" width="0.90" height="0.19" fill="rgb(235,162,152)"/>
<rect x="88.00" y="418.78" width="0.10" height="0.72" fill="rgb(190,118,160)"/>
<rect x="88.00" y="418.77" width="0.10" height="0.01" fill="rgb(235,162,152)"/>
<rect x="88.10" y="418.82" width="0.90" height="0.68" fill="rgb(190,118,160)"/>
<rect x="88.10" y="418.77" width="0.90" height="0.06" fill="rgb(235,162,152)"/>
<rect x="89.00" y="418.82" width="0.10" height="0.68" fill="rgb(190,118,160)"/>
<rect x="89.00" y="418.00" width="0.10" height="0.82" fill="rgb(235,162,152)"/>
<rect x="89.10" y="418.80" width="0.90" height="0.70" fill="rgb(190,118,160)"/>
<rect x="89.10" y="418.00" width="0.90" height="0.80" fill="rgb(235,162,152)"/>
<rect x="90.00" y="418.80" width="0.10" height="0.70" fill="rgb(190,118,160)"/>
<rect x="90.00" y="418.75" width="0.10" height="0.05" fill="rgb(235,162,152)"/>
<rect x="90.10" y="418.76" width="0.90" height="0.74" fill="rgb(190,118,160)"/>
<rect x="90.10" y="418.75" width="0.90" height="0.01" fill="rgb(235,162,152)"/>
<rect x="91.00" y="418.95" width="0.10" height="0.55" fill="rgb(190,118,160)"/>
<rect x="91.00" y="418.76" width="0.10" height="0.19" fill="rgb(150,162,250)"/>
<rect x="91.10" y="418.95" width="0.90" height="0.55" fill="rgb(190,118,160)"/>
<rect x="91.10" y="418.88" width="0.90" height="0.07" fill="rgb(150,162,250)"/>
<rect x="92.00" y="418.94" width="0.10" height="0.56" fill="rgb(190,118,160)"/>
<rect x="92.00" y="418.88" width="0.10" height="0.07" fill="rgb(150,162,250)"/>
<rect x="92.10" y="418.94" width="0.90" height="0.56" fill="rgb(190,118,160)"/>
<rect x="92.10" y="418.81" width="0.90" height="0.13" fill="rgb(150,162,250)"/>
<rect x="93.00" y="418.98" width="0.10" height="0.52" fill="rgb(190,118,160)"/>
<rect x="93.00" y="418.81" width="0.10" height="0.17" fill="rgb(150,162,250)"/>
<rect x="93.10" y="418.98" width="0.90" height="0.52" fill="rgb(190,118,160)"/>
<rect x="93.10" y="418.91" width="0.90" height="0.08" fill="rgb(150,162,250)"/>
<rect x="94.00" y="418.91" width="0.10" height="0.59" fill="rgb(190,118,160)"/>
<rect x="94.00" y="418.00" width="0.10" height="0.90" fill="rgb(235,162,152)"/>
<rect x="94.10" y="418.99" width="0.90" height="0.51" fill="rgb(190,118,160)"/>
<rect x="94.10" y="418.00" width="0.90" height="0.99" fill="rgb(235,162,152)"/>
<rect x="95.00" y="418.99" width="0.10" height="0.51" fill="rgb(190,118,160)"/>
<rect x="95.00" y="418.99" width="0.10" height="0.00" fill="rgb(235,162,152)"/>
<rect x="95.10" y="418.99" width="0.90" height="0.51" fill="rgb(190,118,160)"/>
<rect x="95.10" y="418.93" width="0.90" height="0.06" fill="rgb(150,162,250)"/>
<rect x="96.00" y="419.03" width="0.10" height="0.47" fill="rgb(190,118,160)"/>
<rect x="96.00" y="418.93" width="0.10" height="0.10" fill="rgb(150,162,250)"/>
<rect x="96.10" y="419.03" width="0.90" height="0.47" fill="rgb(190,118,160)"/>
<rect x="96.10" y="418.90" width="0.90" height="0.12" fill="rgb(150,162,250)"/>
<rect x="97.00" y="419.02" width="0.10" height="0.48" fill="rgb(190,118,160)"/>
<rect x="97.00" y="418.90" width="0.10" height="0.12" fill="rgb(150,162,250)"/>
<rect x="97.10" y="419.16" width="0.90" height="0.34" fill="rgb(190,118,160)"/>
<rect x="97.10" y="419.02" width="0.90" height="0.14" fill="rgb(235,162,152)"/>
<rect x="98.00" y="419.16" width="0.10" height="0.34" fill="rgb(190,118,160)"/>
<rect x="98.00" y="418.97" width="0.10" height="0.18" fill="rgb(235,162,152)"/>
<rect x="98.10" y="419.09" width="0.90" height="0.41" fill="rgb(190,118,160)"/>
<rect x="98.10" y="418.97" width="0.90" height="0.11" fill="rgb(235,162,152)"/>
<rect x="99.00" y="419.12" width="0.10" height="0.38" fill="rgb(190,118,160)"/>
<rect x="99.00" y="419.09" width="0.10" height="0.04" fill="rgb(150,162,250)"/>
<rect x="99.10" y="419.12" width="0.90" height="0.38" fill="rgb(190,118,160)"/>
<rect x="99.10" y="419.10" width="0.90" height="0.03" fill="rgb(150,162,250)"/>
<rect x="100.00" y="419.10" width="0.10" height="0.40" fill="rgb(190,118,160)"/>
<rect x="100.00" y="419.05" width="0.10" height="0.05" fill="rgb(235,162,152)"/>
<rect x="100.10" y="419.05" width="0.90" height="0.45" fill="rgb(190,118,160)"/>
<rect x="100.10" y="419.02" width="0.90" height="0.03" fill="rgb(150,162,250)"/>
<rect x="101.00" y="419.12" width="0.10" height="0.38" fill="rgb(190,118,160)"/>
<rect x="101.00" y="419.02" width="0.10" height="0.10" fill="rgb(150,162,250)"/>
<rect x="101.10" y="419.12" width="0.90" height="0.38" fill="rgb(190,118,160)"/>
<rect x="101.10" y="419.02" width="0.90" height="0.10" fill="rgb(150,162,250)"/>
<rect x="102.00" y="419.04" width="0.10" height="0.46" fill="rgb(190,118,160)"/>
<rect x="102.00" y="419.02" width="0.10" height="0.03" fill="rgb(150,162,250)"/>
<rect x="102.10" y="419.14" width="0.90" height="0.36" fill="rgb(190,118,160)"/>
<rect x="102.10" y="419.04" width="0.90" height="0.09" fill="rgb(235,162,152)"/>
<rect x="103.00" y="419.14" width="0.10" height="0.36" fill="rgb(190,118,160)"/>
<rect x="103.00" y="419.11" width="0.10" height="0.03" fill="rgb(235,162,152)"/>
<rect x="103.10" y="419.11" width="0.90" height="0.39" fill="rgb(190,118,160)"/>
<rect x="103.10" y="419.05" width="0.90" height="0.06" fill="rgb(150,162,250)"/>
<rect x="104.00" y="419.17" width="0.10" height="0.33" fill="rgb(190,118,160)"/>
<rect x="104.00" y="419.05" width="0.10" height="0.13" fill="rgb(150,162,250)"/>
<rect x="104.10" y="419.17" width="0.90" height="0.33" fill="rgb(190,118,160)"/>
<rect x="104.10" y="419.08" width="0.90" height="0.10" fill="rgb(150,162,250)"/>
<rect x="105.00" y="419.19" width="0.10" height="0.31" fill="rgb(190,118,160)"/>
<rect x="105.00" y="419.08" width="0.10" height="0.11" fill="rgb(150,162,250)"/>
<rect x="105.10" y="419.19" width="0.90" height="0.31" fill="rgb(190,118,160)"/>
<rect x="105.10" y="419.18" width="0.90" height="0.01" fill="rgb(150,162,250)"/>
<rect x="106.00" y="419.23" width="0.10" height="0.27" fill="rgb(190,118,160)"/>
<rect x="106.00" y="419.18" width="0.10" height="0.05" fill="rgb(150,162,250)"/>
<rect x="106.10" y="419.23" width="0.90" height="0.27" fill="rgb(190,118,160)"/>
<rect x="106.10" y="419.16" width="0.90" height="0.08" fill="rgb(150,162,250)"/>
<rect x="107.00" y="419.16" width="0.10" height="0.34" fill="rgb(190,118,160)"/>
<rect x="107.00" y="419.16" width="0.10" height="0.01" fill="rgb(150,162,250)"/>
<rect x="107.10" y="419.22" width="0.90" height="0.28" fill="rgb(190,118,160)"/>
<rect x="107.10" y="419.16" width="0.90" height="0.06" fill="rgb(235,162,152)"/>
<rect x="108.00" y="419.22" width="0.10" height="0.28" fill="rgb(190,118,160)"/>
<rect x="108.00" y="419.19" width="0.10" height="0.04" fill="rgb(235,162,152)"/>
<rect x="108.10" y="419.19" width="0.90" height="0.31" fill="rgb(190,118,160)"/>
<rect x="108.10" y="419.11" width="0.90" height="0.07" fill="rgb(150,162,250)"/>
<rect x="109.00" y="419.23" width="0.10" height="0.27" fill="rgb(190,118,160)"/>
<rect x="109.00" y="419.11" width="0.10" height="0.11" fill="rgb(150,162,250)"/>
<rect x="109.10" y="419.23" width="0.90" height="0.27" fill="rgb(190,118,160)"/>
<rect x="109.10" y="419.15" width="0.90" height="0.08" fill="rgb(150,162,250)"/>
<rect x="110.00" y="419.20" width="0.10" height="0.30" fill="rgb(190,118,160)"/>
<rect x="110.00" y="419.15" width="0.10" height="0.06" fill="rgb(150,162,250)"/>
<rect x="110.10" y="419.20" width="0.90" height="0.30" fill="rgb(190,118,160)"/>
<rect x="110.10" y="419.12" width="0.90" height="0.08" fill="rgb(150,162,250)"/>
<rect x="111.00" y="419.22" width="0.10" height="0.28" fill="rgb(190,118,160)"/>
<rect x="111.00" y="419.12" width="0.10" height="0.10" fill="rgb(150,162,250)"/>
<rect x="111.10" y="419.22" width="0.90" height="0.28" fill="rgb(190,118,160)"/>
<rect x="111.10" y="419.15" width="0.90" height="0.07" fill="rgb(150,162,250)"/>
<rect x="112.00" y="419.16" width="0.10" height="0.34" fill="rgb(190,118,160)"/>
<rect x="112.00" y="419.15" width="0.10" height="0.01" fill="rgb(150,162,250)"/>
<rect x="112.10" y="419.17" width="0.90" height="0.33" fill="rgb(190,118,160)"/>
<rect x="112.10" y="419.16" width="0.90" height="0.02" fill="rgb(235,162,152)"/>
<rect x="113.00" y="419.26" width="0.10" height="0.24" fill="rgb(190,118,160)"/>
<rect x="113.00" y="419.17" width="0.10" height="0.08" fill="rgb(150,162,250)"/>
<rect x="113.10" y="419.26" width="0.90" height="0.24" fill="rgb(190,118,160)"/>
<rect x="113.10" y="419.17" width="0.90" height="0.09" fill="rgb(150,162,250)"/>
<rect x="114.00" y="419.17" width="0.10" height="0.33" fill="rgb(190,118,160)"/>
<rect x="114.00" y="419.14" width="0.10" height="0.03" fill="rgb(235,162,152)"/>
<rect x="114.10" y="419.20" width="0.90" height="0.30" fill="rgb(190,118,160)"/>
<rect x="114.10" y="419.14" width="0.90" height="0.06" fill="rgb(235,162,152)"/>
<rect x="115.00" y="419.22" width="0.10" height="0.28" fill="rgb(190,118,160)"/>
<rect x="115.00" y="419.20" width="0.10" height="0.02" fill="rgb(150,162,250)"/>
<rect x="115.10" y="419.28" width="0.90" height="0.22" fill="rgb(190,118,160)"/>
<rect x="115.10" y="419.22" width="0.90" height="0.05" fill="rgb(235,162,152)"/>
<rect x="116.00" y="419.28" width="0.10" height="0.22" fill="rgb(190,118,160)"/>
<rect x="116.00" y="419.21" width="0.10" height="0.06" fill="rgb(235,162,152)"/>
<rect x="116.10" y="419.22" width="0.90" height="0.28" fill="rgb(190,118,160)"/>
<rect x="116.10" y="419.21" width="0.90" height="0.00" fill="rgb(235,162,152)"/>
<rect x="117.00" y="419.24" width="0.10" height="0.26" fill="rgb(190,118,160)"/>
<rect x="117.00" y="419.22" width="0.10" height="0.02" fill="rgb(150,162,250)"/>
<rect x="117.10" y="419.30" width="0.90" height="0.20" fill="rgb(190,118,160)"/>
<rect x="117.10" y="419.24" width="0.90" height="0.06" fill="rgb(235,162,152)"/>
<rect x="118.00" y="419.30" width="0.10" height="0.20" fill="rgb(190,118,160)"/>
<rect x="118.00" y="419.20" width="0.10" height="0.10" fill="rgb(235,162,152)"/>
<rect x="118.10" y="419.29" width="0.90" height="0.21" fill="rgb(190,118,160)"/>
<rect x="118.10" y="419.20" width="0.90" height="0.09" fill="rgb(235,162,152)"/>
<rect x="119.00" y="419.29" width="0.10" height="0.21" fill="rgb(190,118,160)"/>
<rect x="119.00" y="419.21" width="0.10" height="0.08" fill="rgb(235,162,152)"/>
<rect x="119.10" y="419.21" width="0.90" height="0.29" fill="rgb(190,118,160)"/>
<rect x="119.10" y="419.21" width="0.90" height="0.01" fill="rgb(235,162,152)"/>
<rect x="120.00" y="419.25" width="0.10" height="0.25" fill="rgb(190,118,160)"/>
<rect x="120.00" y="419.21" width="0.10" height="0.03" fill="rgb(150,162,250)"/>
<rect x="120.10" y="419.31" width="0.90" height="0.19" fill="rgb(190,118,160)"/>
<rect x="120.10" y="419.25" width="0.90" height="0.06" fill="rgb(235,162,152)"/>
<rect x="121.00" y="419.31" width="0.10" height="0.19" fill="rgb(190,118,160)"/>
<rect x="121.00" y="419.26" width="0.10" height="0.05" fill="rgb(235,162,152)"/>
<rect x="121.10" y="419.31" width="0.90" height="0.19" fill="rgb(190,118,160)"/>
<rect x="121.10" y="419.26" width="0.90" height="0.05" fill="rgb(235,162,152)"/>
<rect x="122.00" y="419.31" width="0.10" height="0.19" fill="rgb(190,118,160)"/>
<rect x="122.00" y="419.24" width="0.10" height="0.07" fill="rgb(235,162,152)"/>
<rect x="122.10" y="419.31" width="0.90" height="0.19" fill="rgb(190,118,160)"/>
<rect x="122.10" y="419.24" width="0.90" height="0.07" fill="rgb(235,162,152)"/>
<rect x="123.00" y="419.31" width="0.10" height="0.19" fill="rgb(190,118,160)"/>
<rect x="123.00" y="419.23" width="0.10" height="0.08" fill="rgb(235,162,152)"/>
<rect x="123.10" y="419.23" width="0.90" height="0.27" fill="rgb(190,118,160)"/>
<rect x="123.10" y="419.23" width="0.90" height="0.00" fill="rgb(150,162,250)"/>
<rect x="124.00" y="419.29" width="0.10" height="0.21" fill="rgb(190,118,160)"/>
<rect x="124.00" y="419.23" width="0.10" height="0.06" fill="rgb(150,162,250)"/>
<rect x="124.10" y="419.31" width="0.90" height="0.19" fill="rgb(190,118,160)"/>
<rect x="124.10" y="419.29" width="0.90" height="0.03" fill="rgb(235,162,152)"/>
<rect x="125.00" y="419.31" width="0.10" height="0.19" fill="rgb(190,118,160)"/>
<rect x="125.00" y="419.26" width="0.10" height="0.06" fill="rgb(235,162,152)"/>
<rect x="125.10" y="419.33" width="0.90" height="0.17" fill="rgb(190,118,160)"/>
<rect x="125.10" y="419.26" width="0.90" height="0.08" fill="rgb(235,162,152)"/>
<rect x="126.00" y="419.33" width="0.10" height="0.17" fill="rgb(190,118,160)"/>
<rect x="126.00" y="419.24" width="0.10" height="0.10" fill="rgb(235,162,152)"/>
<rect x="126.10" y="419.25" width="0.90" height="0.25" fill="rgb(190,118,160)"/>
<rect x="126.10" y="419.24" width="0.90" height="0.01" fill="rgb(235,162,152)"/>
<rect x="127.00" y="419.30" width="0.10" height="0.20" fill="rgb(190,118,160)"/>
<rect x="127.00" y="419.25" width="0.10" height="0.04" fill="rgb(150,162,250)"/>
<rect x="127.10" y="419.33" width="0.90" height="0.17" fill="rgb(190,118,160)"/>
<rect x="127.10" y="419.30" width="0.90" height="0.04" fill="rgb(235,162,152)"/>
<rect x="128.00" y="419.33" width="0.10" height="0.17" fill="rgb(190,118,160)"/>
<rect x="128.00" y="419.32" width="0.10" height="0.01" fill="rgb(235,162,152)"/>
<rect x="128.10" y="419.32" width="0.90" height="0.18" fill="rgb(190,118,160)"/>
<rect x="128.10" y="419.26" width="0.90" height="0.06" fill="rgb(150,162,250)"/>
<rect x="129.00" y="419.33" width="0.10" height="0.17" fill="rgb(190,118,160)"/>
<rect x="129.00" y="419.26" width="0.10" height="0.07" fill="rgb(150,162,250)"/>
<rect x="129.10" y="419.33" width="0.90" height="0.17" fill="rgb(190,118,160)"/>
<rect x="129.10" y="419.29" width="0.90" height="0.04" fill="rgb(150,162,250)"/>
<rect x="130.00" y="419.29" width="0.10" height="0.21" fill="rgb(190,118,160)"/>
<rect x="130.00" y="419.29" width="0.10" height="0.00" fill="rgb(150,162,250)"/>
<rect x="130.10" y="419.29" width="0.90" height="0.21" fill="rgb(235,162,152)"/>
<rect x="131.00" y="419.30" width="1.00" height="0.20" fill="rgb(235,162,152)"/>
<rect x="132.00" y="419.27" width="1.00" height="0.23" fill="rgb(235,162,152)"/>
<rect x="133.00" y="419.29" width="1.00" height="0.21" fill="rgb(235,162,152)"/>
<rect x="134.00" y="419.35" width="1.00" height="0.15" fill="rgb(235,162,152)"/>
<rect x="135.00" y="419.36" width="1.00" height="0.14" fill="rgb(235,162,152)"/>
<rect x="136.00" y="419.35" width="1.00" height="0.15" fill="rgb(235,162,152)"/>
<rect x="137.00" y="419.36" width="1.00" height="0.14" fill="rgb(235,162,152)"/>
<rect x="138.00" y="419.33" width="1.00" height="0.17" fill="rgb(235,162,152)"/>
<rect x="139.00" y="419.32" width="1.00" height="0.18" fill="rgb(235,162,152)"/>
<rect x="140.00" y="419.32" width="1.00" height="0.18" fill="rgb(235,162,152)"/>
<rect x="141.00" y="419.37" width="1.00" height="0.13" fill="rgb(235,162,152)"/>
<rect x="142.00" y="419.33" width="1.00" height="0.17" fill="rgb(235,162,152)"/>
<rect x="143.00" y="419.37" width="1.00" height="0.13" fill="rgb(235,162,152)"/>
<rect x="144.00" y="419.37" width="1.00" height="0.13" fill="rgb(235,162,152)"/>
<rect x="145.00" y="419.35" width="1.00" height="0.15" fill="rgb(235,162,152)"/>
<rect x="146.00" y="419.40" width="1.00" height="0.10" fill="rgb(235,162,152)"/>
<rect x="147.00" y="419.40" width="1.00" height="0.10" fill="rgb(235,162,152)"/>
<rect x="148.00" y="419.36" width="1.00" height="0.14" fill="rgb(235,162,152)"/>
<rect x="149.00" y="419.39" width="1.00" height="0.11" fill="rgb(235,162,152)"/>
<rect x="150.00" y="419.39" width="1.00" height="0.11" fill="rgb(235,162,152)"/>
<rect x="151.00" y="419.38" width="1.00" height="0.12" fill="rgb(235,162,152)"/>
<rect x="152.00" y="419.38" width="1.00" height="0.12" fill="rgb(235,162,152)"/>
<rect x="153.00" y="419.42" width="1.00" height="0.08" fill="rgb(235,162,152)"/>
<rect x="154.00" y="419.40" width="1.00" height="0.10" fill="rgb(235,162,152)"/>
<rect x="155.00" y="419.40" width="1.00" height="0.10" fill="rgb(235,162,152)"/>
<rect x="156.00" y="419.40" width="1.00" height="0.10" fill="rgb(235,162,152)"/>
<rect x="157.00" y="419.42" width="1.00" height="0.08" fill="rgb(235,162,152)"/>
<rect x="158.00" y="419.40" width="1.00" height="0.10" fill="rgb(235,162,152)"/>
<rect x="159.00" y="419.39" width="1.00" height="0.11" fill="rgb(235,162,152)"/>
<rect x="160.00" y="419.41" width="1.00" height="0.09" fill="rgb(235,162,152)"/>
<rect x="161.00" y="416.50" width="1.00" height="3.00" fill="rgb(235,162,152)"/>
<rect x="162.00" y="419.43" width="1.00" height="0.07" fill="rgb(235,162,152)"/>
<rect x="163.00" y="419.43" width="1.00" height="0.07" fill="rgb(235,162,152)"/>
<rect x="164.00" y="419.41" width="1.00" height="0.09" fill="rgb(235,162,152)"/>
<rect x="165.00" y="419.44" width="1.00" height="0.06" fill="rgb(235,162,152)"/>
<rect x="166.00" y="419.41" width="1.00" height="0.09" fill="rgb(235,162,152)"/>
<rect x="167.00" y="419.41" width="1.00" height="0.09" fill="rgb(235,162,152)"/>
<rect x="168.00" y="419.44" width="1.00" height="0.06" fill="rgb(235,162,152)"/>
<rect x="169.00" y="419.41" width="1.00" height="0.09" fill="rgb(235,162,152)"/>
<rect x="170.00" y="419.43" width="1.00" height="0.07" fill="rgb(235,162,152)"/>
<rect x="171.00" y="419.42" width="1.00" height="0.08" fill="rgb(235,162,152)"/>
<rect x="172.00" y="419.42" width="1.00" height="0.08" fill="rgb(235,162,152)"/>
<rect x="173.00" y="419.44" width="1.00" height="0.06" fill="rgb(235,162,152)"/>
<rect x="174.00" y="419.43" width="1.00" height="0.07" fill="rgb(235,162,152)"/>
<rect x="175.00" y="419.43" width="1.00" height="0.07" fill="rgb(235,162,152)"/>
<rect x="176.00" y="419.43" width="1.00" height="0.07" fill="rgb(235,162,152)"/>
<rect x="177.00" y="419.45" width="1.00" height="0.05" fill="rgb(235,162,152)"/>
<rect x="178.00" y="419.43" width="1.00" height="0.07" fill="rgb(235,162,152)"/>
<rect x="179.00" y="419.43" width="1.00" height="0.07" fill="rgb(235,162,152)"/>
<rect x="180.00" y="419.44" width="1.00" height="0.06" fill="rgb(235,162,152)"/>
<rect x="181.00" y="419.45" width="1.00" height="0.05" fill="rgb(235,162,152)"/>
<rect x="182.00" y="419.46" width="1.00" height="0.04" fill="rgb(235,162,152)"/>
<rect x="183.00" y="419.45" width="1.00" height="0.05" fill="rgb(235,162,152)"/>
<rect x="184.00" y="419.45" width="1.00" height="0.05" fill="rgb(235,162,152)"/>
<rect x="185.00" y="419.45" width="1.00" height="0.05" fill="rgb(235,162,152)"/>
<rect x="186.00" y="419.45" width="1.00" height="0.05" fill="rgb(235,162,152)"/>
<rect x="187.00" y="419.45" width="1.00" height="0.05" fill="rgb(235,162,152)"/>
<rect x="188.00" y="419.46" width="1.00" height="0.04" fill="rgb(235,162,152)"/>
<rect x="189.00" y="419.45" width="1.00" height="0.05" fill="rgb(235,162,152)"/>
<rect x="190.00" y="419.45" width="1.00" height="0.05" fill="rgb(235,162,152)"/>
<rect x="191.00" y="419.46" width="1.00" height="0.04" fill="rgb(235,162,152)"/>
<rect x="192.00" y="419.45" width="1.00" height="0.05" fill="rgb(235,162,152)"/>
<rect x="193.00" y="419.46" width="1.00" height="0.04" fill="rgb(235,162,152)"/>
<rect x="194.00" y="419.47" width="1.00" height="0.03" fill="rgb(235,162,152)"/>
<rect x="195.00" y="419.45" width="1.00" height="0.05" fill="rgb(235,162,152)"/>
<rect x="196.00" y="419.47" width="1.00" height="0.03" fill="rgb(235,162,152)"/>
<rect x="197.00" y="419.47" width="1.00" height="0.03" fill="rgb(235,162,152)"/>
<rect x="198.00" y="419.46" width="1.00" height="0.04" fill="rgb(235,162,152)"/>
<rect x="199.00" y="419.46" width="1.00" height="0.04" fill="rgb(235,162,152)"/>
<rect x="200.00" y="419.47" width="1.00" height="0.03" fill="rgb(235,162,152)"/>
<rect x="201.00" y="419.46" width="1.00" height="0.04" fill="rgb(235,162,152)"/>
<rect x="202.00" y="419.47" width="1.00" height="0.03" fill="rgb(235,162,152)"/>
<rect x="203.00" y="419.47" width="1.00" height="0.03" fill="rgb(235,162,152)"/>
<rect x="204.00" y="419.47" width="1.00" height="0.03" fill="rgb(235,162,152)"/>
<rect x="205.00" y="419.48" width="1.00" height="0.02" fill="rgb(235,162,152)"/>
<rect x="206.00" y="419.47" width="1.00" height="0.03" fill="rgb(235,162,152)"/>
<rect x="207.00" y="419.47" width="1.00" height="0.03" fill="rgb(235,162,152)"/>
<rect x="208.00" y="419.47" width="1.00" height="0.03" fill="rgb(235,162,152)"/>
<rect x="209.00" y="419.47" width="1.00" height="0.03" fill="rgb(235,162,152)"/>
<rect x="210.00" y="417.90" width="1.00" height="1.60" fill="rgb(235,162,152)"/>
<rect x="211.00" y="419.48" width="1.00" height="0.02" fill="rgb(235,162,152)"/>
<rect x="212.00" y="419.48" width="1.00" height="0.02" fill="rgb(235,162,152)"/>
<rect x="213.00" y="419.47" width="1.00" height="0.03" fill="rgb(235,162,152)"/>
<rect x="214.00" y="419.48" width="1.00" height="0.02" fill="rgb(235,162,152)"/>
<rect x="215.00" y="419.48" width="1.00" height="0.02" fill="rgb(235,162,152)"/>
<rect x="216.00" y="419.48" width="1.00" height="0.02" fill="rgb(235,162,152)"/>
<rect x="217.00" y="419.48" width="1.00" height="0.02" fill="rgb(235,162,152)"/>
<rect x="218.00" y="419.48" width="1.00" height="0.02" fill="rgb(235,162,152)"/>
<rect x="219.00" y="419.48" width="1.00" height="0.02" fill="rgb(235,162,152)"/>
<rect x="220.00" y="419.48" width="1.00" height="0.02" fill="rgb(235,162,152)"/>
<rect x="221.00" y="419.48" width="1.00" height="0.02" fill="rgb(235,162,152)"/>
<rect x="222.00" y="419.48" width="1.00" height="0.02" fill="rgb(235,162,152)"/>
<rect x="223.00" y="419.48" width="1.00" height="0.02" fill="rgb(235,162,152)"/>
<rect x="288.10" y="275.00" width="203.90" height="144.50" fill="#e5ecf6"/>
<line x1="288.1" x2="492.0" y1="391.48" y2="391.48" stroke="#fff" stroke-width="0.42"/>
<line x1="288.1" x2="492.0" y1="363.76" y2="363.76" stroke="#fff" stroke-width="0.42"/>
<line x1="288.1" x2="492.0" y1="336.04" y2="336.04" stroke="#fff" stroke-width="0.42"/>
<line x1="288.1" x2="492.0" y1="308.32" y2="308.32" stroke="#fff" stroke-width="0.42"/>
<line x1="288.1" x2="492.0" y1="280.60" y2="280.60" stroke="#fff" stroke-width="0.42"/>
<rect x="288.10" y="275.00" width="3.80" height="144.50" fill="rgb(189,128,167)"/>
<rect x="291.90" y="355.44" width="0.10" height="64.06" fill="rgb(189,128,167)"/>
<rect x="291.90" y="275.00" width="0.10" height="80.44" fill="rgb(233,174,167)"/>
<rect x="292.00" y="355.44" width="0.80" height="64.06" fill="rgb(189,128,167)"/>
<rect x="292.00" y="316.08" width="0.80" height="39.36" fill="rgb(233,174,167)"/>
<rect x="292.80" y="355.44" width="1.00" height="64.06" fill="rgb(189,128,167)"/>
<rect x="292.80" y="347.13" width="1.00" height="8.32" fill="rgb(233,174,167)"/>
<rect x="293.80" y="391.48" width="0.20" height="28.02" fill="rgb(189,128,167)"/>
<rect x="293.80" y="347.13" width="0.20" height="44.35" fill="rgb(233,174,167)"/>
<rect x="294.00" y="391.48" width="0.90" height="28.02" fill="rgb(189,128,167)"/>
<rect x="294.00" y="275.00" width="0.90" height="116.48" fill="rgb(233,174,167)"/>
<rect x="294.90" y="397.86" width="1.10" height="21.64" fill="rgb(189,128,167)"/>
<rect x="294.90" y="354.06" width="1.10" height="43.80" fill="rgb(233,174,167)"/>
<rect x="296.00" y="397.86" width="1.00" height="21.64" fill="rgb(189,128,167)"/>
<rect x="296.00" y="380.39" width="1.00" height="17.46" fill="rgb(233,174,167)"/>
<rect x="297.00" y="407.00" width="0.10" height="12.50" fill="rgb(189,128,167)"/>
<rect x="297.00" y="380.39" width="0.10" height="26.61" fill="rgb(233,174,167)"/>
<rect x="297.10" y="407.00" width="1.40" height="12.50" fill="rgb(189,128,167)"/>
<rect x="297.10" y="381.22" width="1.40" height="25.78" fill="rgb(233,174,167)"/>
<rect x="298.50" y="404.23" width="1.30" height="15.27" fill="rgb(189,128,167)"/>
<rect x="298.50" y="402.57" width="1.30" height="1.66" fill="rgb(233,174,167)"/>
<rect x="299.80" y="404.23" width="1.60" height="15.27" fill="rgb(189,128,167)"/>
<rect x="299.80" y="394.81" width="1.60" height="9.42" fill="rgb(233,174,167)"/>
<rect x="301.40" y="405.34" width="2.80" height="14.16" fill="rgb(189,128,167)"/>
<rect x="301.40" y="400.90" width="2.80" height="4.44" fill="rgb(171,179,248)"/>
<rect x="304.20" y="411.44" width="0.80" height="8.06" fill="rgb(189,128,167)"/>
<rect x="304.20" y="410.88" width="0.80" height="0.55" fill="rgb(233,174,167)"/>
<rect x="305.00" y="414.21" width="1.50" height="5.29" fill="rgb(189,128,167)"/>
<rect x="305.00" y="410.61" width="1.50" height="3.60" fill="rgb(171,179,248)"/>
<rect x="306.50" y="415.04" width="0.70" height="4.46" fill="rgb(189,128,167)"/>
<rect x="306.50" y="414.21" width="0.70" height="0.83" fill="rgb(233,174,167)"/>
<rect x="307.20" y="415.04" width="0.90" height="4.46" fill="rgb(189,128,167)"/>
<rect x="307.20" y="408.67" width="0.90" height="6.38" fill="rgb(233,174,167)"/>
<rect x="308.10" y="415.04" width="0.40" height="4.46" fill="rgb(189,128,167)"/>
<rect x="308.10" y="414.21" width="0.40" height="0.83" fill="rgb(233,174,167)"/>
<rect x="308.50" y="414.21" width="1.50" height="5.29" fill="rgb(189,128,167)"/>
<rect x="308.50" y="411.44" width="1.50" height="2.77" fill="rgb(171,179,248)"/>
<rect x="310.00" y="415.04" width="1.30" height="4.46" fill="rgb(189,128,167)"/>
<rect x="310.00" y="414.21" width="1.30" height="0.83" fill="rgb(233,174,167)"/>
<rect x="311.30" y="383.16" width="0.80" height="36.34" fill="rgb(189,128,167)"/>
<rect x="311.30" y="370.41" width="0.80" height="12.75" fill="rgb(233,174,167)"/>
<rect x="312.10" y="370.41" width="1.30" height="49.09" fill="rgb(189,128,167)"/>
<rect x="312.10" y="314.97" width="1.30" height="55.44" fill="rgb(171,179,248)"/>
<rect x="313.40" y="390.09" width="2.20" height="29.41" fill="rgb(189,128,167)"/>
<rect x="313.40" y="320.79" width="2.20" height="69.30" fill="rgb(171,179,248)"/>
<rect x="315.60" y="390.09" width="0.60" height="29.41" fill="rgb(189,128,167)"/>
<rect x="315.60" y="336.04" width="0.60" height="54.05" fill="rgb(171,179,248)"/>
<rect x="316.20" y="399.80" width="1.10" height="19.70" fill="rgb(189,128,167)"/>
<rect x="316.20" y="367.09" width="1.10" height="32.71" fill="rgb(171,179,248)"/>
<rect x="317.30" y="408.11" width="1.20" height="11.39" fill="rgb(189,128,167)"/>
<rect x="317.30" y="381.22" width="1.20" height="26.89" fill="rgb(171,179,248)"/>
<rect x="318.50" y="415.32" width="0.40" height="4.18" fill="rgb(189,128,167)"/>
<rect x="318.50" y="381.22" width="0.40" height="34.10" fill="rgb(171,179,248)"/>
<rect x="318.90" y="415.32" width="1.10" height="4.18" fill="rgb(189,128,167)"/>
<rect x="318.90" y="387.88" width="1.10" height="27.44" fill="rgb(171,179,248)"/>
<rect x="320.00" y="415.32" width="0.40" height="4.18" fill="rgb(189,128,167)"/>
<rect x="320.00" y="413.66" width="0.40" height="1.66" fill="rgb(171,179,248)"/>
<rect x="320.40" y="413.66" width="0.60" height="5.84" fill="rgb(189,128,167)"/>
<rect x="320.40" y="400.63" width="0.60" height="13.03" fill="rgb(233,174,167)"/>
<rect x="321.00" y="400.63" width="0.50" height="18.57" fill="rgb(233,174,167)"/>
<rect x="321.50" y="418.93" width="0.80" height="0.57" fill="rgb(189,128,167)"/>
<rect x="321.50" y="416.20" width="0.80" height="2.73" fill="rgb(233,174,167)"/>
<rect x="322.30" y="419.10" width="0.80" height="0.40" fill="rgb(189,128,167)"/>
<rect x="322.30" y="417.93" width="0.80" height="1.17" fill="rgb(233,174,167)"/>
<rect x="323.10" y="418.71" width="0.80" height="0.79" fill="rgb(189,128,167)"/>
<rect x="323.10" y="418.41" width="0.80" height="0.30" fill="rgb(233,174,167)"/>
<rect x="323.90" y="418.83" width="0.80" height="0.67" fill="rgb(189,128,167)"/>
<rect x="323.90" y="416.71" width="0.80" height="2.12" fill="rgb(233,174,167)"/>
<rect x="324.70" y="418.88" width="0.80" height="0.62" fill="rgb(189,128,167)"/>
<rect x="324.70" y="418.23" width="0.80" height="0.65" fill="rgb(233,174,167)"/>
<rect x="325.50" y="417.61" width="0.80" height="1.89" fill="rgb(189,128,167)"/>
<rect x="325.50" y="416.77" width="0.80" height="0.85" fill="rgb(233,174,167)"/>
<rect x="326.30" y="418.06" width="0.80" height="1.44" fill="rgb(189,128,167)"/>
<rect x="326.30" y="416.80" width="0.80" height="1.26" fill="rgb(233,174,167)"/>
<rect x="327.10" y="418.94" width="0.80" height="0.56" fill="rgb(189,128,167)"/>
<rect x="327.10" y="418.40" width="0.80" height="0.55" fill="rgb(233,174,167)"/>
<rect x="327.90" y="418.82" width="0.80" height="0.68" fill="rgb(189,128,167)"/>
<rect x="327.90" y="418.29" width="0.80" height="0.52" fill="rgb(233,174,167)"/>
<rect x="328.70" y="418.91" width="0.80" height="0.59" fill="rgb(189,128,167)"/>
<rect x="328.70" y="417.38" width="0.80" height="1.52" fill="rgb(233,174,167)"/>
<rect x="329.50" y="418.57" width="0.80" height="0.93" fill="rgb(189,128,167)"/>
<rect x="329.50" y="418.19" width="0.80" height="0.38" fill="rgb(233,174,167)"/>
<rect x="330.30" y="418.90" width="0.80" height="0.60" fill="rgb(189,128,167)"/>
<rect x="330.30" y="418.73" width="0.80" height="0.17" fill="rgb(233,174,167)"/>
<rect x="331.10" y="417.33" width="0.80" height="2.17" fill="rgb(189,128,167)"/>
<rect x="331.10" y="416.74" width="0.80" height="0.59" fill="rgb(233,174,167)"/>
<rect x="331.90" y="418.65" width="0.80" height="0.85" fill="rgb(189,128,167)"/>
<rect x="331.90" y="417.95" width="0.80" height="0.70" fill="rgb(233,174,167)"/>
<rect x="332.70" y="418.35" width="0.80" height="1.15" fill="rgb(189,128,167)"/>
<rect x="332.70" y="417.52" width="0.80" height="0.83" fill="rgb(233,174,167)"/>
<rect x="333.50" y="417.82" width="0.20" height="1.68" fill="rgb(189,128,167)"/>
<rect x="333.50" y="416.70" width="0.20" height="1.13" fill="rgb(233,174,167)"/>
<rect x="333.70" y="417.82" width="0.60" height="1.68" fill="rgb(189,128,167)"/>
<rect x="333.70" y="408.94" width="0.60" height="8.88" fill="rgb(233,174,167)"/>
<rect x="334.30" y="418.51" width="0.20" height="0.99" fill="rgb(189,128,167)"/>
<rect x="334.30" y="408.94" width="0.20" height="9.57" fill="rgb(233,174,167)"/>
<rect x="334.50" y="418.51" width="0.60" height="0.99" fill="rgb(189,128,167)"/>
<rect x="334.50" y="418.20" width="0.60" height="0.31" fill="rgb(233,174,167)"/>
<rect x="335.10" y="418.54" width="0.80" height="0.96" fill="rgb(189,128,167)"/>
<rect x="335.10" y="417.83" width="0.80" height="0.71" fill="rgb(233,174,167)"/>
<rect x="335.90" y="419.20" width="0.80" height="0.30" fill="rgb(189,128,167)"/>
<rect x="335.90" y="417.36" width="0.80" height="1.84" fill="rgb(233,174,167)"/>
<rect x="336.70" y="418.20" width="0.80" height="1.30" fill="rgb(189,128,167)"/>
<rect x="336.70" y="417.31" width="0.80" height="0.89" fill="rgb(233,174,167)"/>
<rect x="337.50" y="418.65" width="0.80" height="0.85" fill="rgb(189,128,167)"/>
<rect x="337.50" y="417.89" width="0.80" height="0.76" fill="rgb(233,174,167)"/>
<rect x="338.30" y="419.01" width="0.80" height="0.49" fill="rgb(189,128,167)"/>
<rect x="338.30" y="417.98" width="0.80" height="1.03" fill="rgb(233,174,167)"/>
<rect x="339.10" y="419.16" width="0.80" height="0.34" fill="rgb(189,128,167)"/>
<rect x="339.10" y="417.87" width="0.80" height="1.29" fill="rgb(233,174,167)"/>
<rect x="339.90" y="418.56" width="0.80" height="0.94" fill="rgb(189,128,167)"/>
<rect x="339.90" y="417.95" width="0.80" height="0.60" fill="rgb(233,174,167)"/>
<rect x="340.70" y="418.69" width="0.80" height="0.81" fill="rgb(189,128,167)"/>
<rect x="340.70" y="418.08" width="0.80" height="0.61" fill="rgb(233,174,167)"/>
<rect x="341.50" y="417.76" width="0.80" height="1.74" fill="rgb(189,128,167)"/>
<rect x="341.50" y="417.18" width="0.80" height="0.58" fill="rgb(233,174,167)"/>
<rect x="342.30" y="418.86" width="0.80" height="0.64" fill="rgb(189,128,167)"/>
<rect x="342.30" y="418.67" width="0.80" height="0.19" fill="rgb(233,174,167)"/>
<rect x="343.10" y="419.14" width="0.80" height="0.36" fill="rgb(189,128,167)"/>
<rect x="343.10" y="417.84" width="0.80" height="1.31" fill="rgb(233,174,167)"/>
<rect x="343.90" y="419.03" width="0.80" height="0.47" fill="rgb(189,128,167)"/>
<rect x="343.90" y="418.31" width="0.80" height="0.72" fill="rgb(233,174,167)"/>
<rect x="344.70" y="419.03" width="0.80" height="0.47" fill="rgb(189,128,167)"/>
<rect x="344.70" y="418.80" width="0.80" height="0.23" fill="rgb(233,174,167)"/>
<rect x="345.50" y="418.74" width="0.80" height="0.76" fill="rgb(189,128,167)"/>
<rect x="345.50" y="417.42" width="0.80" height="1.32" fill="rgb(233,174,167)"/>
<rect x="346.30" y="418.28" width="0.80" height="1.22" fill="rgb(189,128,167)"/>
<rect x="346.30" y="417.55" width="0.80" height="0.73" fill="rgb(233,174,167)"/>
<rect x="347.10" y="418.88" width="0.80" height="0.62" fill="rgb(189,128,167)"/>
<rect x="347.10" y="418.73" width="0.80" height="0.15" fill="rgb(233,174,167)"/>
<rect x="347.90" y="418.33" width="0.80" height="1.17" fill="rgb(189,128,167)"/>
<rect x="347.90" y="418.03" width="0.80" height="0.30" fill="rgb(233,174,167)"/>
<rect x="348.70" y="418.42" width="0.80" height="1.08" fill="rgb(189,128,167)"/>
<rect x="348.70" y="417.88" width="0.80" height="0.54" fill="rgb(233,174,167)"/>
<rect x="349.50" y="418.72" width="0.80" height="0.78" fill="rgb(189,128,167)"/>
<rect x="349.50" y="418.45" width="0.80" height="0.27" fill="rgb(233,174,167)"/>
<rect x="350.30" y="418.11" width="0.80" height="1.39" fill="rgb(189,128,167)"/>
<rect x="350.30" y="417.62" width="0.80" height="0.49" fill="rgb(233,174,167)"/>
<rect x="351.10" y="418.68" width="0.80" height="0.82" fill="rgb(189,128,167)"/>
<rect x="351.10" y="418.35" width="0.80" height="0.34" fill="rgb(233,174,167)"/>
<rect x="351.90" y="419.12" width="0.80" height="0.38" fill="rgb(189,128,167)"/>
<rect x="351.90" y="418.30" width="0.80" height="0.82" fill="rgb(233,174,167)"/>
<rect x="352.70" y="419.18" width="0.80" height="0.32" fill="rgb(189,128,167)"/>
<rect x="352.70" y="418.92" width="0.80" height="0.27" fill="rgb(233,174,167)"/>
<rect x="353.50" y="419.14" width="0.80" height="0.36" fill="rgb(189,128,167)"/>
<rect x="353.50" y="418.71" width="0.80" height="0.42" fill="rgb(233,174,167)"/>
<rect x="354.30" y="418.72" width="0.80" height="0.78" fill="rgb(189,128,167)"/>
<rect x="354.30" y="418.34" width="0.80" height="0.38" fill="rgb(233,174,167)"/>
<rect x="355.10" y="418.90" width="0.80" height="0.60" fill="rgb(189,128,167)"/>
<rect x="355.10" y="418.30" width="0.80" height="0.60" fill="rgb(233,174,167)"/>
<rect x="355.90" y="418.95" width="0.80" height="0.55" fill="rgb(189,128,167)"/>
<rect x="355.90" y="418.18" width="0.80" height="0.77" fill="rgb(233,174,167)"/>
<rect x="356.70" y="418.73" width="0.80" height="0.77" fill="rgb(189,128,167)"/>
<rect x="356.70" y="418.43" width="0.80" height="0.31" fill="rgb(233,174,167)"/>
<rect x="357.50" y="419.10" width="0.80" height="0.40" fill="rgb(189,128,167)"/>
<rect x="357.50" y="418.52" width="0.80" height="0.58" fill="rgb(233,174,167)"/>
<rect x="358.30" y="418.48" width="0.80" height="1.02" fill="rgb(189,128,167)"/>
<rect x="358.30" y="417.94" width="0.80" height="0.53" fill="rgb(233,174,167)"/>
<rect x="359.10" y="419.02" width="0.80" height="0.48" fill="rgb(189,128,167)"/>
<rect x="359.10" y="418.58" width="0.80" height="0.43" fill="rgb(233,174,167)"/>
<rect x="359.90" y="418.82" width="0.80" height="0.68" fill="rgb(189,128,167)"/>
<rect x="359.90" y="418.41" width="0.80" height="0.41" fill="rgb(233,174,167)"/>
<rect x="360.70" y="419.20" width="0.80" height="0.30" fill="rgb(189,128,167)"/>
<rect x="360.70" y="418.77" width="0.80" height="0.43" fill="rgb(233,174,167)"/>
<rect x="361.50" y="418.94" width="0.80" height="0.56" fill="rgb(189,128,167)"/>
<rect x="361.50" y="418.79" width="0.80" height="0.15" fill="rgb(233,174,167)"/>
<rect x="362.30" y="419.08" width="0.80" height="0.42" fill="rgb(189,128,167)"/>
<rect x="362.30" y="418.87" width="0.80" height="0.21" fill="rgb(233,174,167)"/>
<rect x="363.10" y="419.14" width="0.80" height="0.36" fill="rgb(189,128,167)"/>
<rect x="363.10" y="418.82" width="0.80" height="0.31" fill="rgb(233,174,167)"/>
<rect x="363.90" y="419.09" width="0.80" height="0.41" fill="rgb(189,128,167)"/>
<rect x="363.90" y="418.85" width="0.80" height="0.23" fill="rgb(233,174,167)"/>
<rect x="364.70" y="419.19" width="0.80" height="0.31" fill="rgb(189,128,167)"/>
<rect x="364.70" y="418.86" width="0.80" height="0.33" fill="rgb(233,174,167)"/>
<rect x="365.50" y="419.16" width="0.80" height="0.34" fill="rgb(189,128,167)"/>
<rect x="365.50" y="418.93" width="0.80" height="0.24" fill="rgb(233,174,167)"/>
<rect x="366.30" y="419.17" width="0.80" height="0.33" fill="rgb(189,128,167)"/>
<rect x="366.30" y="418.57" width="0.80" height="0.60" fill="rgb(233,174,167)"/>
<rect x="367.10" y="419.14" width="0.80" height="0.36" fill="rgb(189,128,167)"/>
<rect x="367.10" y="419.02" width="0.80" height="0.11" fill="rgb(233,174,167)"/>
<rect x="367.90" y="418.90" width="0.80" height="0.60" fill="rgb(189,128,167)"/>
<rect x="367.90" y="418.67" width="0.80" height="0.23" fill="rgb(233,174,167)"/>
<rect x="368.70" y="419.14" width="0.80" height="0.36" fill="rgb(189,128,167)"/>
<rect x="368.70" y="419.00" width="0.80" height="0.13" fill="rgb(233,174,167)"/>
<rect x="369.50" y="419.19" width="0.80" height="0.31" fill="rgb(189,128,167)"/>
<rect x="369.50" y="418.70" width="0.80" height="0.49" fill="rgb(233,174,167)"/>
<rect x="370.30" y="419.03" width="0.80" height="0.47" fill="rgb(189,128,167)"/>
<rect x="370.30" y="418.21" width="0.80" height="0.82" fill="rgb(233,174,167)"/>
<rect x="371.10" y="419.12" width="0.80" height="0.38" fill="rgb(189,128,167)"/>
<rect x="371.10" y="418.98" width="0.80" height="0.14" fill="rgb(233,174,167)"/>
<rect x="371.90" y="419.06" width="0.80" height="0.44" fill="rgb(189,128,167)"/>
<rect x="371.90" y="418.92" width="0.80" height="0.14" fill="rgb(233,174,167)"/>
<rect x="372.70" y="419.16" width="0.80" height="0.34" fill="rgb(189,128,167)"/>
<rect x="372.70" y="418.78" width="0.80" height="0.38" fill="rgb(233,174,167)"/>
<rect x="373.50" y="419.10" width="0.80" height="0.40" fill="rgb(189,128,167)"/>
<rect x="373.50" y="419.02" width="0.80" height="0.07" fill="rgb(233,174,167)"/>
<rect x="374.30" y="418.98" width="0.80" height="0.52" fill="rgb(189,128,167)"/>
<rect x="374.30" y="418.85" width="0.80" height="0.13" fill="rgb(233,174,167)"/>
<rect x="375.10" y="418.83" width="0.80" height="0.67" fill="rgb(189,128,167)"/>
<rect x="375.10" y="418.71" width="0.80" height="0.12" fill="rgb(233,174,167)"/>
<rect x="375.90" y="419.13" width="0.80" height="0.37" fill="rgb(189,128,167)"/>
<rect x="375.90" y="418.85" width="0.80" height="0.28" fill="rgb(233,174,167)"/>
<rect x="376.70" y="418.99" width="0.80" height="0.51" fill="rgb(189,128,167)"/>
<rect x="376.70" y="418.88" width="0.80" height="0.11" fill="rgb(233,174,167)"/>
<rect x="377.50" y="419.04" width="0.80" height="0.46" fill="rgb(189,128,167)"/>
<rect x="377.50" y="418.62" width="0.80" height="0.42" fill="rgb(233,174,167)"/>
<rect x="378.30" y="419.10" width="0.80" height="0.40" fill="rgb(189,128,167)"/>
<rect x="378.30" y="419.01" width="0.80" height="0.08" fill="rgb(233,174,167)"/>
<rect x="379.10" y="418.82" width="0.80" height="0.68" fill="rgb(189,128,167)"/>
<rect x="379.10" y="418.40" width="0.80" height="0.42" fill="rgb(233,174,167)"/>
<rect x="379.90" y="419.20" width="0.80" height="0.30" fill="rgb(189,128,167)"/>
<rect x="379.90" y="419.08" width="0.80" height="0.11" fill="rgb(233,174,167)"/>
<rect x="380.70" y="419.03" width="0.80" height="0.17" fill="rgb(233,174,167)"/>
<rect x="381.50" y="418.98" width="0.80" height="0.22" fill="rgb(233,174,167)"/>
<rect x="382.30" y="419.07" width="0.80" height="0.13" fill="rgb(233,174,167)"/>
<rect x="383.10" y="419.06" width="0.80" height="0.14" fill="rgb(233,174,167)"/>
<rect x="383.90" y="418.69" width="0.80" height="0.51" fill="rgb(233,174,167)"/>
<rect x="384.70" y="418.55" width="0.80" height="0.65" fill="rgb(233,174,167)"/>
<rect x="385.50" y="418.98" width="0.80" height="0.22" fill="rgb(233,174,167)"/>
<rect x="386.30" y="418.53" width="0.80" height="0.67" fill="rgb(233,174,167)"/>
<rect x="387.10" y="418.83" width="0.80" height="0.37" fill="rgb(233,174,167)"/>
<rect x="387.90" y="418.65" width="0.80" height="0.55" fill="rgb(233,174,167)"/>
<rect x="388.70" y="418.60" width="0.80" height="0.60" fill="rgb(233,174,167)"/>
<rect x="389.50" y="418.60" width="0.80" height="0.60" fill="rgb(233,174,167)"/>
<rect x="390.30" y="419.09" width="0.80" height="0.11" fill="rgb(233,174,167)"/>
<rect x="391.10" y="418.96" width="0.80" height="0.24" fill="rgb(233,174,167)"/>
<rect x="391.90" y="418.81" width="0.80" height="0.39" fill="rgb(233,174,167)"/>
<rect x="392.70" y="418.64" width="0.80" height="0.56" fill="rgb(233,174,167)"/>
<rect x="393.50" y="419.08" width="0.80" height="0.12" fill="rgb(233,174,167)"/>
<rect x="394.30" y="418.98" width="0.80" height="0.22" fill="rgb(233,174,167)"/>
<rect x="395.10" y="418.72" width="0.80" height="0.48" fill="rgb(233,174,167)"/>
<rect x="395.90" y="419.07" width="0.80" height="0.13" fill="rgb(233,174,167)"/>
<rect x="396.70" y="418.95" width="0.80" height="0.25" fill="rgb(233,174,167)"/>
<rect x="397.50" y="418.98" width="0.80" height="0.22" fill="rgb(233,174,167)"/>
<rect x="398.30" y="418.83" width="0.80" height="0.37" fill="rgb(233,174,167)"/>
<rect x="399.10" y="418.73" width="0.80" height="0.47" fill="rgb(233,174,167)"/>
<rect x="399.90" y="419.06" width="0.80" height="0.14" fill="rgb(233,174,167)"/>
<rect x="400.70" y="418.83" width="0.80" height="0.37" fill="rgb(233,174,167)"/>
<rect x="401.50" y="418.84" width="0.80" height="0.36" fill="rgb(233,174,167)"/>
<rect x="402.30" y="418.81" width="0.80" height="0.39" fill="rgb(233,174,167)"/>
<rect x="403.10" y="418.92" width="0.80" height="0.28" fill="rgb(233,174,167)"/>
<rect x="403.90" y="418.79" width="0.80" height="0.41" fill="rgb(233,174,167)"/>
<rect x="404.70" y="419.00" width="0.80" height="0.20" fill="rgb(233,174,167)"/>
<rect x="405.50" y="418.99" width="0.80" height="0.21" fill="rgb(233,174,167)"/>
<rect x="406.30" y="419.06" width="0.80" height="0.14" fill="rgb(233,174,167)"/>
<rect x="407.10" y="418.87" width="0.80" height="0.33" fill="rgb(233,174,167)"/>
<rect x="407.90" y="418.98" width="0.80" height="0.22" fill="rgb(233,174,167)"/>
<rect x="408.70" y="419.05" width="0.80" height="0.15" fill="rgb(233,174,167)"/>
<rect x="409.50" y="419.09" width="0.80" height="0.11" fill="rgb(233,174,167)"/>
<rect x="410.30" y="418.92" width="0.80" height="0.28" fill="rgb(233,174,167)"/>
<rect x="411.10" y="418.96" width="0.80" height="0.24" fill="rgb(233,174,167)"/>
<rect x="411.90" y="418.93" width="0.80" height="0.27" fill="rgb(233,174,167)"/>
<rect x="412.70" y="419.03" width="0.80" height="0.17" fill="rgb(233,174,167)"/>
<rect x="413.50" y="419.01" width="0.80" height="0.19" fill="rgb(233,174,167)"/>
<rect x="414.30" y="419.11" width="0.80" height="0.09" fill="rgb(233,174,167)"/>
<rect x="415.10" y="418.95" width="0.80" height="0.25" fill="rgb(233,174,167)"/>
<rect x="415.90" y="419.15" width="0.80" height="0.05" fill="rgb(233,174,167)"/>
<rect x="416.70" y="419.03" width="0.50" height="0.17" fill="rgb(233,174,167)"/>
<rect x="417.20" y="411.44" width="0.30" height="7.76" fill="rgb(233,174,167)"/>
<rect x="417.50" y="411.44" width="0.50" height="7.76" fill="rgb(233,174,167)"/>
<rect x="418.00" y="418.95" width="0.30" height="0.25" fill="rgb(233,174,167)"/>
<rect x="418.30" y="418.98" width="0.80" height="0.22" fill="rgb(233,174,167)"/>
<rect x="419.10" y="419.13" width="0.80" height="0.07" fill="rgb(233,174,167)"/>
<rect x="419.90" y="419.10" width="0.80" height="0.10" fill="rgb(233,174,167)"/>
<rect x="420.70" y="418.95" width="0.80" height="0.25" fill="rgb(233,174,167)"/>
<rect x="421.50" y="419.00" width="0.80" height="0.20" fill="rgb(233,174,167)"/>
<rect x="422.30" y="418.95" width="0.80" height="0.25" fill="rgb(233,174,167)"/>
<rect x="423.10" y="418.96" width="0.80" height="0.24" fill="rgb(233,174,167)"/>
<rect x="423.90" y="419.06" width="0.80" height="0.14" fill="rgb(233,174,167)"/>
<rect x="424.70" y="418.96" width="0.30" height="0.24" fill="rgb(233,174,167)"/>
<rect x="425.00" y="415.32" width="0.50" height="3.88" fill="rgb(233,174,167)"/>
<rect x="425.50" y="415.32" width="0.20" height="3.88" fill="rgb(233,174,167)"/>
<rect x="425.70" y="419.00" width="0.60" height="0.20" fill="rgb(233,174,167)"/>
<rect x="426.30" y="419.09" width="0.80" height="0.11" fill="rgb(233,174,167)"/>
<rect x="427.10" y="419.09" width="0.80" height="0.11" fill="rgb(233,174,167)"/>
<rect x="427.90" y="419.15" width="0.80" height="0.05" fill="rgb(233,174,167)"/>
<rect x="428.70" y="419.09" width="0.80" height="0.11" fill="rgb(233,174,167)"/>
<rect x="429.50" y="418.98" width="0.80" height="0.22" fill="rgb(233,174,167)"/>
</g>
<g filter="url(#soft2)">
<text transform="translate(226.80,173.20) scale(0.86,1)" font-size="7.5" fill="#2a3f5f" text-anchor="start" stroke="#2a3f5f" stroke-width="0.22">0</text>
<text transform="translate(226.80,155.44) scale(0.86,1)" font-size="7.5" fill="#2a3f5f" text-anchor="start" stroke="#2a3f5f" stroke-width="0.22">1000</text>
<text transform="translate(226.80,137.68) scale(0.86,1)" font-size="7.5" fill="#2a3f5f" text-anchor="start" stroke="#2a3f5f" stroke-width="0.22">2000</text>
<text transform="translate(226.80,119.92) scale(0.86,1)" font-size="7.5" fill="#2a3f5f" text-anchor="start" stroke="#2a3f5f" stroke-width="0.22">3000</text>
<text transform="translate(226.80,102.16) scale(0.86,1)" font-size="7.5" fill="#2a3f5f" text-anchor="start" stroke="#2a3f5f" stroke-width="0.22">4000</text>
<text transform="translate(226.80,84.40) scale(0.86,1)" font-size="7.5" fill="#2a3f5f" text-anchor="start" stroke="#2a3f5f" stroke-width="0.22">5000</text>
<text transform="translate(226.80,66.64) scale(0.86,1)" font-size="7.5" fill="#2a3f5f" text-anchor="start" stroke="#2a3f5f" stroke-width="0.22">6000</text>
<text transform="translate(226.80,48.88) scale(0.86,1)" font-size="7.5" fill="#2a3f5f" text-anchor="start" stroke="#2a3f5f" stroke-width="0.22">7000</text>
<text transform="translate(226.80,31.12) scale(0.86,1)" font-size="7.5" fill="#2a3f5f" text-anchor="start" stroke="#2a3f5f" stroke-width="0.22">8000</text>
<text transform="translate(26.40,174.20) scale(0.74,1) rotate(-90)" font-size="7.9" fill="#2a3f5f" text-anchor="end" stroke="#2a3f5f" stroke-width="0.22">0</text>
<text transform="translate(51.44,174.20) scale(0.74,1) rotate(-90)" font-size="7.9" fill="#2a3f5f" text-anchor="end" stroke="#2a3f5f" stroke-width="0.22">100</text>
<text transform="translate(76.48,174.20) scale(0.74,1) rotate(-90)" font-size="7.9" fill="#2a3f5f" text-anchor="end" stroke="#2a3f5f" stroke-width="0.22">200</text>
<text transform="translate(101.52,174.20) scale(0.74,1) rotate(-90)" font-size="7.9" fill="#2a3f5f" text-anchor="end" stroke="#2a3f5f" stroke-width="0.22">300</text>
<text transform="translate(126.56,174.20) scale(0.74,1) rotate(-90)" font-size="7.9" fill="#2a3f5f" text-anchor="end" stroke="#2a3f5f" stroke-width="0.22">400</text>
<text transform="translate(151.60,174.20) scale(0.74,1) rotate(-90)" font-size="7.9" fill="#2a3f5f" text-anchor="end" stroke="#2a3f5f" stroke-width="0.22">500</text>
<text transform="translate(176.64,174.20) scale(0.74,1) rotate(-90)" font-size="7.9" fill="#2a3f5f" text-anchor="end" stroke="#2a3f5f" stroke-width="0.22">600</text>
<text transform="translate(201.68,174.20) scale(0.74,1) rotate(-90)" font-size="7.9" fill="#2a3f5f" text-anchor="end" stroke="#2a3f5f" stroke-width="0.22">700</text>
<text transform="translate(226.72,174.20) scale(0.74,1) rotate(-90)" font-size="7.9" fill="#2a3f5f" text-anchor="end" stroke="#2a3f5f" stroke-width="0.22">800</text>
<rect x="242.00" y="24.00" width="40.00" height="26.00" fill="#fff"/>
<rect x="246.50" y="32.50" width="4.20" height="4.60" fill="#636efa"/>
<rect x="246.50" y="41.00" width="4.20" height="4.60" fill="#ef553b"/>
<text transform="translate(256.00,36.70) scale(1.0,1)" font-size="6.0" fill="#2a3f5f" text-anchor="start" stroke="#2a3f5f" stroke-width="0.1" textLength="14.6" lengthAdjust="spacingAndGlyphs">Benign</text>
<text transform="translate(256.00,45.30) scale(1.0,1)" font-size="6.0" fill="#2a3f5f" text-anchor="start" stroke="#2a3f5f" stroke-width="0.1" textLength="19.5" lengthAdjust="spacingAndGlyphs">Malicious</text>
<text transform="translate(9.30,13.30) scale(1.0,1)" font-size="10.9" fill="#1a1a1a" text-anchor="start" stroke="#1a1a1a" stroke-width="0.25" textLength="116.1" lengthAdjust="spacingAndGlyphs">Number of JS function calls</text>
<text transform="translate(494.10,175.00) scale(0.86,1)" font-size="7.5" fill="#2a3f5f" text-anchor="start" stroke="#2a3f5f" stroke-width="0.22">0</text>
<text transform="translate(494.10,151.56) scale(0.86,1)" font-size="7.5" fill="#2a3f5f" text-anchor="start" stroke="#2a3f5f" stroke-width="0.22">2k</text>
<text transform="translate(494.10,128.12) scale(0.86,1)" font-size="7.5" fill="#2a3f5f" text-anchor="start" stroke="#2a3f5f" stroke-width="0.22">4k</text>
<text transform="translate(494.10,104.68) scale(0.86,1)" font-size="7.5" fill="#2a3f5f" text-anchor="start" stroke="#2a3f5f" stroke-width="0.22">6k</text>
<text transform="translate(494.10,81.24) scale(0.86,1)" font-size="7.5" fill="#2a3f5f" text-anchor="start" stroke="#2a3f5f" stroke-width="0.22">8k</text>
<text transform="translate(494.10,57.80) scale(0.86,1)" font-size="7.5" fill="#2a3f5f" text-anchor="start" stroke="#2a3f5f" stroke-width="0.22">10k</text>
<text transform="translate(494.10,34.36) scale(0.86,1)" font-size="7.5" fill="#2a3f5f" text-anchor="start" stroke="#2a3f5f" stroke-width="0.22">12k</text>
<text transform="translate(294.00,176.10) scale(0.74,1) rotate(-90)" font-size="7.9" fill="#2a3f5f" text-anchor="end" stroke="#2a3f5f" stroke-width="0.22">0</text>
<text transform="translate(319.00,176.10) scale(0.74,1) rotate(-90)" font-size="7.9" fill="#2a3f5f" text-anchor="end" stroke="#2a3f5f" stroke-width="0.22">10</text>
<text transform="translate(344.00,176.10) scale(0.74,1) rotate(-90)" font-size="7.9" fill="#2a3f5f" text-anchor="end" stroke="#2a3f5f" stroke-width="0.22">20</text>
<text transform="translate(369.00,176.10) scale(0.74,1) rotate(-90)" font-size="7.9" fill="#2a3f5f" text-anchor="end" stroke="#2a3f5f" stroke-width="0.22">30</text>
<text transform="translate(394.00,176.10) scale(0.74,1) rotate(-90)" font-size="7.9" fill="#2a3f5f" text-anchor="end" stroke="#2a3f5f" stroke-width="0.22">40</text>
<text transform="translate(419.00,176.10) scale(0.74,1) rotate(-90)" font-size="7.9" fill="#2a3f5f" text-anchor="end" stroke="#2a3f5f" stroke-width="0.22">50</text>
<text transform="translate(444.00,176.10) scale(0.74,1) rotate(-90)" font-size="7.9" fill="#2a3f5f" text-anchor="end" stroke="#2a3f5f" stroke-width="0.22">60</text>
<text transform="translate(469.00,176.10) scale(0.74,1) rotate(-90)" font-size="7.9" fill="#2a3f5f" text-anchor="end" stroke="#2a3f5f" stroke-width="0.22">70</text>
<text transform="translate(494.00,176.10) scale(0.74,1) rotate(-90)" font-size="7.9" fill="#2a3f5f" text-anchor="end" stroke="#2a3f5f" stroke-width="0.22">80</text>
<rect x="513.70" y="33.80" width="4.20" height="4.60" fill="#636efa"/>
<rect x="513.70" y="42.30" width="4.20" height="4.60" fill="#ef553b"/>
<text transform="translate(523.20,38.00) scale(1.0,1)" font-size="6.0" fill="#2a3f5f" text-anchor="start" stroke="#2a3f5f" stroke-width="0.1" textLength="14.6" lengthAdjust="spacingAndGlyphs">Benign</text>
<text transform="translate(523.20,46.60) scale(1.0,1)" font-size="6.0" fill="#2a3f5f" text-anchor="start" stroke="#2a3f5f" stroke-width="0.1" textLength="19.5" lengthAdjust="spacingAndGlyphs">Malicious</text>
<text transform="translate(277.70,14.60) scale(1.0,1)" font-size="10.9" fill="#1a1a1a" text-anchor="start" stroke="#1a1a1a" stroke-width="0.25" textLength="121.5" lengthAdjust="spacingAndGlyphs">Suspicious JS function count</text>
<text transform="translate(226.80,422.60) scale(0.86,1)" font-size="7.5" fill="#2a3f5f" text-anchor="start" stroke="#2a3f5f" stroke-width="0.22">0</text>
<text transform="translate(226.80,402.62) scale(0.86,1)" font-size="7.5" fill="#2a3f5f" text-anchor="start" stroke="#2a3f5f" stroke-width="0.22">1000</text>
<text transform="translate(226.80,382.64) scale(0.86,1)" font-size="7.5" fill="#2a3f5f" text-anchor="start" stroke="#2a3f5f" stroke-width="0.22">2000</text>
<text transform="translate(226.80,362.66) scale(0.86,1)" font-size="7.5" fill="#2a3f5f" text-anchor="start" stroke="#2a3f5f" stroke-width="0.22">3000</text>
<text transform="translate(226.80,342.68) scale(0.86,1)" font-size="7.5" fill="#2a3f5f" text-anchor="start" stroke="#2a3f5f" stroke-width="0.22">4000</text>
<text transform="translate(226.80,322.70) scale(0.86,1)" font-size="7.5" fill="#2a3f5f" text-anchor="start" stroke="#2a3f5f" stroke-width="0.22">5000</text>
<text transform="translate(226.80,302.72) scale(0.86,1)" font-size="7.5" fill="#2a3f5f" text-anchor="start" stroke="#2a3f5f" stroke-width="0.22">6000</text>
<text transform="translate(226.80,282.74) scale(0.86,1)" font-size="7.5" fill="#2a3f5f" text-anchor="start" stroke="#2a3f5f" stroke-width="0.22">7000</text>
<text transform="translate(26.20,423.50) scale(0.74,1) rotate(-90)" font-size="7.9" fill="#2a3f5f" text-anchor="end" stroke="#2a3f5f" stroke-width="0.22">0</text>
<text transform="translate(59.53,423.50) scale(0.74,1) rotate(-90)" font-size="7.9" fill="#2a3f5f" text-anchor="end" stroke="#2a3f5f" stroke-width="0.22">10k</text>
<text transform="translate(92.86,423.50) scale(0.74,1) rotate(-90)" font-size="7.9" fill="#2a3f5f" text-anchor="end" stroke="#2a3f5f" stroke-width="0.22">20k</text>
<text transform="translate(126.19,423.50) scale(0.74,1) rotate(-90)" font-size="7.9" fill="#2a3f5f" text-anchor="end" stroke="#2a3f5f" stroke-width="0.22">30k</text>
<text transform="translate(159.52,423.50) scale(0.74,1) rotate(-90)" font-size="7.9" fill="#2a3f5f" text-anchor="end" stroke="#2a3f5f" stroke-width="0.22">40k</text>
<text transform="translate(192.85,423.50) scale(0.74,1) rotate(-90)" font-size="7.9" fill="#2a3f5f" text-anchor="end" stroke="#2a3f5f" stroke-width="0.22">50k</text>
<text transform="translate(226.18,423.50) scale(0.74,1) rotate(-90)" font-size="7.9" fill="#2a3f5f" text-anchor="end" stroke="#2a3f5f" stroke-width="0.22">60k</text>
<rect x="241.70" y="274.00" width="40.00" height="32.00" fill="#fff"/>
<rect x="246.30" y="282.00" width="4.20" height="4.60" fill="#636efa"/>
<rect x="246.30" y="290.50" width="4.20" height="4.60" fill="#ef553b"/>
<text transform="translate(255.80,286.20) scale(1.0,1)" font-size="6.0" fill="#2a3f5f" text-anchor="start" stroke="#2a3f5f" stroke-width="0.1" textLength="14.6" lengthAdjust="spacingAndGlyphs">Benign</text>
<text transform="translate(255.80,294.80) scale(1.0,1)" font-size="6.0" fill="#2a3f5f" text-anchor="start" stroke="#2a3f5f" stroke-width="0.1" textLength="19.5" lengthAdjust="spacingAndGlyphs">Malicious</text>
<text transform="translate(9.00,262.90) scale(1.0,1)" font-size="10.9" fill="#1a1a1a" text-anchor="start" stroke="#1a1a1a" stroke-width="0.25" textLength="41.1" lengthAdjust="spacingAndGlyphs">JS Length</text>
<text transform="translate(494.40,422.50) scale(0.86,1)" font-size="7.5" fill="#2a3f5f" text-anchor="start" stroke="#2a3f5f" stroke-width="0.22">0</text>
<text transform="translate(494.40,394.78) scale(0.86,1)" font-size="7.5" fill="#2a3f5f" text-anchor="start" stroke="#2a3f5f" stroke-width="0.22">100</text>
<text transform="translate(494.40,367.06) scale(0.86,1)" font-size="7.5" fill="#2a3f5f" text-anchor="start" stroke="#2a3f5f" stroke-width="0.22">200</text>
<text transform="translate(494.40,339.34) scale(0.86,1)" font-size="7.5" fill="#2a3f5f" text-anchor="start" stroke="#2a3f5f" stroke-width="0.22">300</text>
<text transform="translate(494.40,311.62) scale(0.86,1)" font-size="7.5" fill="#2a3f5f" text-anchor="start" stroke="#2a3f5f" stroke-width="0.22">400</text>
<text transform="translate(494.40,283.90) scale(0.86,1)" font-size="7.5" fill="#2a3f5f" text-anchor="start" stroke="#2a3f5f" stroke-width="0.22">500</text>
<text transform="translate(290.60,423.50) scale(0.74,1) rotate(-90)" font-size="7.9" fill="#2a3f5f" text-anchor="end" stroke="#2a3f5f" stroke-width="0.22">0</text>
<text transform="translate(318.05,423.50) scale(0.74,1) rotate(-90)" font-size="7.9" fill="#2a3f5f" text-anchor="end" stroke="#2a3f5f" stroke-width="0.22">5k</text>
<text transform="translate(345.50,423.50) scale(0.74,1) rotate(-90)" font-size="7.9" fill="#2a3f5f" text-anchor="end" stroke="#2a3f5f" stroke-width="0.22">10k</text>
<text transform="translate(372.95,423.50) scale(0.74,1) rotate(-90)" font-size="7.9" fill="#2a3f5f" text-anchor="end" stroke="#2a3f5f" stroke-width="0.22">15k</text>
<text transform="translate(400.40,423.50) scale(0.74,1) rotate(-90)" font-size="7.9" fill="#2a3f5f" text-anchor="end" stroke="#2a3f5f" stroke-width="0.22">20k</text>
<text transform="translate(427.85,423.50) scale(0.74,1) rotate(-90)" font-size="7.9" fill="#2a3f5f" text-anchor="end" stroke="#2a3f5f" stroke-width="0.22">25k</text>
<text transform="translate(455.30,423.50) scale(0.74,1) rotate(-90)" font-size="7.9" fill="#2a3f5f" text-anchor="end" stroke="#2a3f5f" stroke-width="0.22">30k</text>
<text transform="translate(482.75,423.50) scale(0.74,1) rotate(-90)" font-size="7.9" fill="#2a3f5f" text-anchor="end" stroke="#2a3f5f" stroke-width="0.22">35k</text>
<rect x="514.20" y="279.80" width="4.20" height="4.60" fill="#636efa"/>
<rect x="514.20" y="288.30" width="4.20" height="4.60" fill="#ef553b"/>
<text transform="translate(523.70,284.00) scale(1.0,1)" font-size="6.0" fill="#2a3f5f" text-anchor="start" stroke="#2a3f5f" stroke-width="0.1" textLength="14.6" lengthAdjust="spacingAndGlyphs">Benign</text>
<text transform="translate(523.70,292.60) scale(1.0,1)" font-size="6.0" fill="#2a3f5f" text-anchor="start" stroke="#2a3f5f" stroke-width="0.1" textLength="19.5" lengthAdjust="spacingAndGlyphs">Malicious</text>
<text transform="translate(277.50,261.10) scale(1.0,1)" font-size="10.9" fill="#1a1a1a" text-anchor="start" stroke="#1a1a1a" stroke-width="0.25" textLength="87.3" lengthAdjust="spacingAndGlyphs">Max JS Array Length</text>
</g>
</svg>
</body></html>
